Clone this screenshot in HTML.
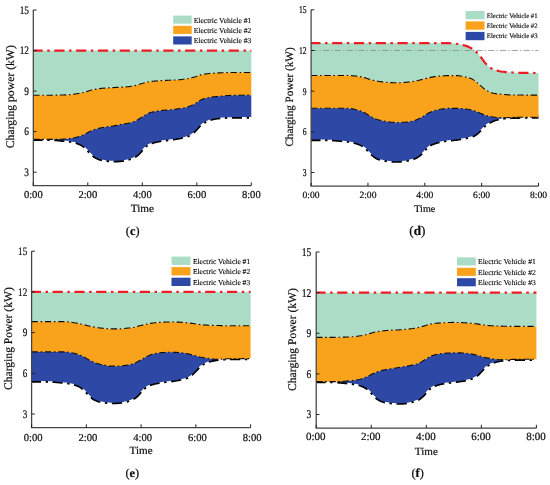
<!DOCTYPE html>
<html lang="en"><head><meta charset="utf-8"><title>Charging power of electric vehicles</title>
<style>
html,body{margin:0;padding:0;background:#fff;}
body{width:550px;height:485px;overflow:hidden;}
svg{display:block;}
text{font-family:"Liberation Serif",serif;fill:#0a0a0a;stroke:#0a0a0a;stroke-width:0.18px;text-rendering:geometricPrecision;}
.lg{fill:#111;stroke:#111;stroke-width:0.15px;}
</style></head><body>
<svg width="550" height="485" viewBox="0 0 550 485">
<defs><filter id="soft" x="0" y="0" width="550" height="485" filterUnits="userSpaceOnUse"><feGaussianBlur stdDeviation="0.38"/></filter></defs>
<rect width="550" height="485" fill="#fff"/>
<g filter="url(#soft)">
<g id="panel-c">
<polyline points="33.30,139.34 34.66,139.34 36.02,139.34 37.39,139.34 38.75,139.34 40.11,139.34 41.47,139.34 42.84,139.34 44.20,139.34 45.56,139.35 46.92,139.36 48.29,139.38 49.65,139.41 51.01,139.44 52.38,139.48 53.74,139.53 55.10,139.63 56.46,139.74 57.83,139.87 59.19,140.02 60.55,140.16 61.91,140.29 63.27,140.41 64.64,140.53 66.00,140.67 67.36,140.83 68.72,141.03 70.09,141.26 71.45,141.50 72.81,141.76 74.17,142.04 75.54,142.37 76.90,142.75 78.26,143.21 79.62,143.76 80.99,144.41 82.35,145.20 83.71,146.17 85.08,147.28 86.44,148.50 87.80,150.00 89.16,151.61 90.53,153.08 91.89,154.36 93.25,155.57 94.61,156.62 95.97,157.43 97.34,158.11 98.70,158.68 100.06,159.13 101.42,159.48 102.79,159.77 104.15,160.01 105.51,160.21 106.88,160.40 108.24,160.56 109.60,160.68 110.96,160.76 112.33,160.83 113.69,160.87 115.05,160.88 116.41,160.85 117.78,160.79 119.14,160.71 120.50,160.62 121.86,160.48 123.23,160.31 124.59,160.11 125.95,159.83 127.31,159.47 128.68,159.06 130.04,158.65 131.40,158.20 132.76,157.68 134.12,157.04 135.49,156.22 136.85,155.20 138.21,154.05 139.57,152.74 140.94,151.11 142.30,149.44 143.66,148.00 145.03,146.70 146.39,145.50 147.75,144.50 149.11,143.76 150.47,143.15 151.84,142.63 153.20,142.20 154.56,141.82 155.93,141.50 157.29,141.21 158.65,140.94 160.01,140.69 161.38,140.47 162.74,140.27 164.10,140.11 165.46,139.96 166.82,139.81 168.19,139.64 169.55,139.46 170.91,139.27 172.28,139.07 173.64,138.88 175.00,138.69 176.36,138.48 177.73,138.26 179.09,138.04 180.45,137.79 181.81,137.52 183.18,137.22 184.54,136.88 185.90,136.49 187.26,136.03 188.62,135.47 189.99,134.79 191.35,133.98 192.71,132.89 194.07,131.52 195.44,130.06 196.80,128.65 198.16,127.14 199.53,125.66 200.89,124.40 202.25,123.40 203.61,122.52 204.98,121.75 206.34,121.06 207.70,120.41 209.06,119.84 210.43,119.38 211.79,119.02 213.15,118.73 214.51,118.47 215.88,118.23 217.24,118.01 218.60,117.81 219.96,117.65 221.32,117.54 222.69,117.46 224.05,117.38 225.41,117.31 226.78,117.24 228.14,117.18 229.50,117.14 230.86,117.13 232.23,117.11 233.59,117.10 234.95,117.09 236.31,117.09 237.68,117.08 239.04,117.07 240.40,117.06 241.76,117.06 243.12,117.05 244.49,117.05 245.85,117.05 247.21,117.04 248.57,117.04 249.94,117.04 251.30,117.04" fill="none" stroke="#000" stroke-width="3.2" stroke-dasharray="10.2 4.6 2.4 4.6" stroke-dashoffset="0.8"/>
<polygon points="33.30,50.55 34.66,50.55 36.02,50.55 37.39,50.55 38.75,50.55 40.11,50.55 41.47,50.55 42.84,50.55 44.20,50.55 45.56,50.55 46.92,50.55 48.29,50.55 49.65,50.55 51.01,50.55 52.38,50.55 53.74,50.55 55.10,50.55 56.46,50.55 57.83,50.55 59.19,50.55 60.55,50.55 61.91,50.55 63.27,50.55 64.64,50.55 66.00,50.55 67.36,50.55 68.72,50.55 70.09,50.55 71.45,50.55 72.81,50.55 74.17,50.55 75.54,50.55 76.90,50.55 78.26,50.55 79.62,50.55 80.99,50.55 82.35,50.55 83.71,50.55 85.08,50.55 86.44,50.55 87.80,50.55 89.16,50.55 90.53,50.55 91.89,50.55 93.25,50.55 94.61,50.55 95.97,50.55 97.34,50.55 98.70,50.55 100.06,50.55 101.42,50.55 102.79,50.55 104.15,50.55 105.51,50.55 106.88,50.55 108.24,50.55 109.60,50.55 110.96,50.55 112.33,50.55 113.69,50.55 115.05,50.55 116.41,50.55 117.78,50.55 119.14,50.55 120.50,50.55 121.86,50.55 123.23,50.55 124.59,50.55 125.95,50.55 127.31,50.55 128.68,50.55 130.04,50.55 131.40,50.55 132.76,50.55 134.12,50.55 135.49,50.55 136.85,50.55 138.21,50.55 139.57,50.55 140.94,50.55 142.30,50.55 143.66,50.55 145.03,50.55 146.39,50.55 147.75,50.55 149.11,50.55 150.47,50.55 151.84,50.55 153.20,50.55 154.56,50.55 155.93,50.55 157.29,50.55 158.65,50.55 160.01,50.55 161.38,50.55 162.74,50.55 164.10,50.55 165.46,50.55 166.82,50.55 168.19,50.55 169.55,50.55 170.91,50.55 172.28,50.55 173.64,50.55 175.00,50.55 176.36,50.55 177.73,50.55 179.09,50.55 180.45,50.55 181.81,50.55 183.18,50.55 184.54,50.55 185.90,50.55 187.26,50.55 188.62,50.55 189.99,50.55 191.35,50.55 192.71,50.55 194.07,50.55 195.44,50.55 196.80,50.55 198.16,50.55 199.53,50.55 200.89,50.55 202.25,50.55 203.61,50.55 204.98,50.55 206.34,50.55 207.70,50.55 209.06,50.55 210.43,50.55 211.79,50.55 213.15,50.55 214.51,50.55 215.88,50.55 217.24,50.55 218.60,50.55 219.96,50.55 221.32,50.55 222.69,50.55 224.05,50.55 225.41,50.55 226.78,50.55 228.14,50.55 229.50,50.55 230.86,50.55 232.23,50.55 233.59,50.55 234.95,50.55 236.31,50.55 237.68,50.55 239.04,50.55 240.40,50.55 241.76,50.55 243.12,50.55 244.49,50.55 245.85,50.55 247.21,50.55 248.57,50.55 249.94,50.55 251.30,50.55 251.30,72.47 249.94,72.47 248.57,72.47 247.21,72.47 245.85,72.47 244.49,72.47 243.12,72.47 241.76,72.47 240.40,72.47 239.04,72.47 237.68,72.47 236.31,72.47 234.95,72.47 233.59,72.47 232.23,72.47 230.86,72.47 229.50,72.47 228.14,72.51 226.78,72.57 225.41,72.64 224.05,72.70 222.69,72.76 221.32,72.81 219.96,72.86 218.60,72.91 217.24,72.97 215.88,73.03 214.51,73.11 213.15,73.20 211.79,73.30 210.43,73.42 209.06,73.55 207.70,73.69 206.34,73.87 204.98,74.07 203.61,74.30 202.25,74.56 200.89,74.85 199.53,75.23 198.16,75.69 196.80,76.18 195.44,76.67 194.07,77.12 192.71,77.48 191.35,77.82 189.99,78.15 188.62,78.44 187.26,78.71 185.90,78.93 184.54,79.12 183.18,79.29 181.81,79.44 180.45,79.58 179.09,79.70 177.73,79.80 176.36,79.89 175.00,79.97 173.64,80.05 172.28,80.12 170.91,80.18 169.55,80.24 168.19,80.29 166.82,80.34 165.46,80.40 164.10,80.46 162.74,80.52 161.38,80.60 160.01,80.68 158.65,80.77 157.29,80.86 155.93,80.96 154.56,81.07 153.20,81.19 151.84,81.33 150.47,81.49 149.11,81.67 147.75,81.94 146.39,82.27 145.03,82.66 143.66,83.06 142.30,83.45 140.94,83.83 139.57,84.24 138.21,84.66 136.85,85.05 135.49,85.40 134.12,85.69 132.76,85.96 131.40,86.21 130.04,86.43 128.68,86.62 127.31,86.75 125.95,86.85 124.59,86.93 123.23,87.00 121.86,87.07 120.50,87.14 119.14,87.23 117.78,87.33 116.41,87.42 115.05,87.52 113.69,87.61 112.33,87.68 110.96,87.75 109.60,87.81 108.24,87.86 106.88,87.93 105.51,88.02 104.15,88.12 102.79,88.24 101.42,88.37 100.06,88.52 98.70,88.69 97.34,88.88 95.97,89.11 94.61,89.38 93.25,89.67 91.89,89.98 90.53,90.31 89.16,90.72 87.80,91.18 86.44,91.64 85.08,92.07 83.71,92.43 82.35,92.74 80.99,93.03 79.62,93.29 78.26,93.53 76.90,93.75 75.54,93.96 74.17,94.16 72.81,94.34 71.45,94.50 70.09,94.63 68.72,94.72 67.36,94.79 66.00,94.85 64.64,94.90 63.27,94.94 61.91,94.98 60.55,95.02 59.19,95.06 57.83,95.09 56.46,95.13 55.10,95.16 53.74,95.20 52.38,95.22 51.01,95.24 49.65,95.26 48.29,95.27 46.92,95.27 45.56,95.27 44.20,95.27 42.84,95.27 41.47,95.27 40.11,95.27 38.75,95.27 37.39,95.27 36.02,95.27 34.66,95.27 33.30,95.27" fill="#abddc6"/>
<polygon points="33.30,95.27 34.66,95.27 36.02,95.27 37.39,95.27 38.75,95.27 40.11,95.27 41.47,95.27 42.84,95.27 44.20,95.27 45.56,95.27 46.92,95.27 48.29,95.27 49.65,95.26 51.01,95.24 52.38,95.22 53.74,95.20 55.10,95.16 56.46,95.13 57.83,95.09 59.19,95.06 60.55,95.02 61.91,94.98 63.27,94.94 64.64,94.90 66.00,94.85 67.36,94.79 68.72,94.72 70.09,94.63 71.45,94.50 72.81,94.34 74.17,94.16 75.54,93.96 76.90,93.75 78.26,93.53 79.62,93.29 80.99,93.03 82.35,92.74 83.71,92.43 85.08,92.07 86.44,91.64 87.80,91.18 89.16,90.72 90.53,90.31 91.89,89.98 93.25,89.67 94.61,89.38 95.97,89.11 97.34,88.88 98.70,88.69 100.06,88.52 101.42,88.37 102.79,88.24 104.15,88.12 105.51,88.02 106.88,87.93 108.24,87.86 109.60,87.81 110.96,87.75 112.33,87.68 113.69,87.61 115.05,87.52 116.41,87.42 117.78,87.33 119.14,87.23 120.50,87.14 121.86,87.07 123.23,87.00 124.59,86.93 125.95,86.85 127.31,86.75 128.68,86.62 130.04,86.43 131.40,86.21 132.76,85.96 134.12,85.69 135.49,85.40 136.85,85.05 138.21,84.66 139.57,84.24 140.94,83.83 142.30,83.45 143.66,83.06 145.03,82.66 146.39,82.27 147.75,81.94 149.11,81.67 150.47,81.49 151.84,81.33 153.20,81.19 154.56,81.07 155.93,80.96 157.29,80.86 158.65,80.77 160.01,80.68 161.38,80.60 162.74,80.52 164.10,80.46 165.46,80.40 166.82,80.34 168.19,80.29 169.55,80.24 170.91,80.18 172.28,80.12 173.64,80.05 175.00,79.97 176.36,79.89 177.73,79.80 179.09,79.70 180.45,79.58 181.81,79.44 183.18,79.29 184.54,79.12 185.90,78.93 187.26,78.71 188.62,78.44 189.99,78.15 191.35,77.82 192.71,77.48 194.07,77.12 195.44,76.67 196.80,76.18 198.16,75.69 199.53,75.23 200.89,74.85 202.25,74.56 203.61,74.30 204.98,74.07 206.34,73.87 207.70,73.69 209.06,73.55 210.43,73.42 211.79,73.30 213.15,73.20 214.51,73.11 215.88,73.03 217.24,72.97 218.60,72.91 219.96,72.86 221.32,72.81 222.69,72.76 224.05,72.70 225.41,72.64 226.78,72.57 228.14,72.51 229.50,72.47 230.86,72.47 232.23,72.47 233.59,72.47 234.95,72.47 236.31,72.47 237.68,72.47 239.04,72.47 240.40,72.47 241.76,72.47 243.12,72.47 244.49,72.47 245.85,72.47 247.21,72.47 248.57,72.47 249.94,72.47 251.30,72.47 251.30,95.15 249.94,95.15 248.57,95.15 247.21,95.16 245.85,95.17 244.49,95.18 243.12,95.20 241.76,95.22 240.40,95.23 239.04,95.26 237.68,95.28 236.31,95.31 234.95,95.34 233.59,95.37 232.23,95.40 230.86,95.43 229.50,95.47 228.14,95.53 226.78,95.61 225.41,95.71 224.05,95.81 222.69,95.91 221.32,96.02 219.96,96.15 218.60,96.29 217.24,96.44 215.88,96.59 214.51,96.75 213.15,96.90 211.79,97.08 210.43,97.27 209.06,97.49 207.70,97.74 206.34,98.06 204.98,98.45 203.61,98.89 202.25,99.38 200.89,99.93 199.53,100.65 198.16,101.53 196.80,102.49 195.44,103.43 194.07,104.26 192.71,104.92 191.35,105.53 189.99,106.10 188.62,106.62 187.26,107.07 185.90,107.45 184.54,107.76 183.18,108.04 181.81,108.28 180.45,108.51 179.09,108.72 177.73,108.92 176.36,109.10 175.00,109.28 173.64,109.44 172.28,109.59 170.91,109.73 169.55,109.84 168.19,109.95 166.82,110.04 165.46,110.14 164.10,110.26 162.74,110.39 161.38,110.54 160.01,110.70 158.65,110.88 157.29,111.08 155.93,111.30 154.56,111.56 153.20,111.85 151.84,112.18 150.47,112.56 149.11,113.00 147.75,113.58 146.39,114.31 145.03,115.13 143.66,115.98 142.30,116.82 140.94,117.64 139.57,118.55 138.21,119.47 136.85,120.32 135.49,121.05 134.12,121.59 132.76,122.06 131.40,122.47 130.04,122.83 128.68,123.15 127.31,123.43 125.95,123.68 124.59,123.89 123.23,124.08 121.86,124.28 120.50,124.49 119.14,124.76 117.78,125.05 116.41,125.37 115.05,125.67 113.69,125.94 112.33,126.16 110.96,126.34 109.60,126.50 108.24,126.65 106.88,126.82 105.51,127.02 104.15,127.24 102.79,127.49 101.42,127.76 100.06,128.05 98.70,128.37 97.34,128.72 95.97,129.13 94.61,129.57 93.25,130.06 91.89,130.58 90.53,131.14 89.16,131.81 87.80,132.56 86.44,133.32 85.08,134.04 83.71,134.66 82.35,135.22 80.99,135.76 79.62,136.26 78.26,136.72 76.90,137.11 75.54,137.45 74.17,137.76 72.81,138.05 71.45,138.30 70.09,138.51 68.72,138.68 67.36,138.82 66.00,138.95 64.64,139.06 63.27,139.15 61.91,139.22 60.55,139.28 59.19,139.32 57.83,139.34 56.46,139.34 55.10,139.34 53.74,139.34 52.38,139.34 51.01,139.34 49.65,139.34 48.29,139.34 46.92,139.34 45.56,139.34 44.20,139.34 42.84,139.34 41.47,139.34 40.11,139.34 38.75,139.34 37.39,139.34 36.02,139.34 34.66,139.34 33.30,139.34" fill="#f9a21c"/>
<polygon points="33.30,139.34 34.66,139.34 36.02,139.34 37.39,139.34 38.75,139.34 40.11,139.34 41.47,139.34 42.84,139.34 44.20,139.34 45.56,139.34 46.92,139.34 48.29,139.34 49.65,139.34 51.01,139.34 52.38,139.34 53.74,139.34 55.10,139.34 56.46,139.34 57.83,139.34 59.19,139.32 60.55,139.28 61.91,139.22 63.27,139.15 64.64,139.06 66.00,138.95 67.36,138.82 68.72,138.68 70.09,138.51 71.45,138.30 72.81,138.05 74.17,137.76 75.54,137.45 76.90,137.11 78.26,136.72 79.62,136.26 80.99,135.76 82.35,135.22 83.71,134.66 85.08,134.04 86.44,133.32 87.80,132.56 89.16,131.81 90.53,131.14 91.89,130.58 93.25,130.06 94.61,129.57 95.97,129.13 97.34,128.72 98.70,128.37 100.06,128.05 101.42,127.76 102.79,127.49 104.15,127.24 105.51,127.02 106.88,126.82 108.24,126.65 109.60,126.50 110.96,126.34 112.33,126.16 113.69,125.94 115.05,125.67 116.41,125.37 117.78,125.05 119.14,124.76 120.50,124.49 121.86,124.28 123.23,124.08 124.59,123.89 125.95,123.68 127.31,123.43 128.68,123.15 130.04,122.83 131.40,122.47 132.76,122.06 134.12,121.59 135.49,121.05 136.85,120.32 138.21,119.47 139.57,118.55 140.94,117.64 142.30,116.82 143.66,115.98 145.03,115.13 146.39,114.31 147.75,113.58 149.11,113.00 150.47,112.56 151.84,112.18 153.20,111.85 154.56,111.56 155.93,111.30 157.29,111.08 158.65,110.88 160.01,110.70 161.38,110.54 162.74,110.39 164.10,110.26 165.46,110.14 166.82,110.04 168.19,109.95 169.55,109.84 170.91,109.73 172.28,109.59 173.64,109.44 175.00,109.28 176.36,109.10 177.73,108.92 179.09,108.72 180.45,108.51 181.81,108.28 183.18,108.04 184.54,107.76 185.90,107.45 187.26,107.07 188.62,106.62 189.99,106.10 191.35,105.53 192.71,104.92 194.07,104.26 195.44,103.43 196.80,102.49 198.16,101.53 199.53,100.65 200.89,99.93 202.25,99.38 203.61,98.89 204.98,98.45 206.34,98.06 207.70,97.74 209.06,97.49 210.43,97.27 211.79,97.08 213.15,96.90 214.51,96.75 215.88,96.59 217.24,96.44 218.60,96.29 219.96,96.15 221.32,96.02 222.69,95.91 224.05,95.81 225.41,95.71 226.78,95.61 228.14,95.53 229.50,95.47 230.86,95.43 232.23,95.40 233.59,95.37 234.95,95.34 236.31,95.31 237.68,95.28 239.04,95.26 240.40,95.23 241.76,95.22 243.12,95.20 244.49,95.18 245.85,95.17 247.21,95.16 248.57,95.15 249.94,95.15 251.30,95.15 251.30,117.04 249.94,117.04 248.57,117.04 247.21,117.04 245.85,117.05 244.49,117.05 243.12,117.05 241.76,117.06 240.40,117.06 239.04,117.07 237.68,117.08 236.31,117.09 234.95,117.09 233.59,117.10 232.23,117.11 230.86,117.13 229.50,117.14 228.14,117.18 226.78,117.24 225.41,117.31 224.05,117.38 222.69,117.46 221.32,117.54 219.96,117.65 218.60,117.81 217.24,118.01 215.88,118.23 214.51,118.47 213.15,118.73 211.79,119.02 210.43,119.38 209.06,119.84 207.70,120.41 206.34,121.06 204.98,121.75 203.61,122.52 202.25,123.40 200.89,124.40 199.53,125.66 198.16,127.14 196.80,128.65 195.44,130.06 194.07,131.52 192.71,132.89 191.35,133.98 189.99,134.79 188.62,135.47 187.26,136.03 185.90,136.49 184.54,136.88 183.18,137.22 181.81,137.52 180.45,137.79 179.09,138.04 177.73,138.26 176.36,138.48 175.00,138.69 173.64,138.88 172.28,139.07 170.91,139.27 169.55,139.46 168.19,139.64 166.82,139.81 165.46,139.96 164.10,140.11 162.74,140.27 161.38,140.47 160.01,140.69 158.65,140.94 157.29,141.21 155.93,141.50 154.56,141.82 153.20,142.20 151.84,142.63 150.47,143.15 149.11,143.76 147.75,144.50 146.39,145.50 145.03,146.70 143.66,148.00 142.30,149.44 140.94,151.11 139.57,152.74 138.21,154.05 136.85,155.20 135.49,156.22 134.12,157.04 132.76,157.68 131.40,158.20 130.04,158.65 128.68,159.06 127.31,159.47 125.95,159.83 124.59,160.11 123.23,160.31 121.86,160.48 120.50,160.62 119.14,160.71 117.78,160.79 116.41,160.85 115.05,160.88 113.69,160.87 112.33,160.83 110.96,160.76 109.60,160.68 108.24,160.56 106.88,160.40 105.51,160.21 104.15,160.01 102.79,159.77 101.42,159.48 100.06,159.13 98.70,158.68 97.34,158.11 95.97,157.43 94.61,156.62 93.25,155.57 91.89,154.36 90.53,153.08 89.16,151.61 87.80,150.00 86.44,148.50 85.08,147.28 83.71,146.17 82.35,145.20 80.99,144.41 79.62,143.76 78.26,143.21 76.90,142.75 75.54,142.37 74.17,142.04 72.81,141.76 71.45,141.50 70.09,141.26 68.72,141.03 67.36,140.83 66.00,140.67 64.64,140.53 63.27,140.41 61.91,140.29 60.55,140.16 59.19,140.02 57.83,139.87 56.46,139.74 55.10,139.63 53.74,139.53 52.38,139.48 51.01,139.44 49.65,139.41 48.29,139.38 46.92,139.36 45.56,139.35 44.20,139.34 42.84,139.34 41.47,139.34 40.11,139.34 38.75,139.34 37.39,139.34 36.02,139.34 34.66,139.34 33.30,139.34" fill="#2e49a5"/>
<polyline points="33.30,95.27 34.66,95.27 36.02,95.27 37.39,95.27 38.75,95.27 40.11,95.27 41.47,95.27 42.84,95.27 44.20,95.27 45.56,95.27 46.92,95.27 48.29,95.27 49.65,95.26 51.01,95.24 52.38,95.22 53.74,95.20 55.10,95.16 56.46,95.13 57.83,95.09 59.19,95.06 60.55,95.02 61.91,94.98 63.27,94.94 64.64,94.90 66.00,94.85 67.36,94.79 68.72,94.72 70.09,94.63 71.45,94.50 72.81,94.34 74.17,94.16 75.54,93.96 76.90,93.75 78.26,93.53 79.62,93.29 80.99,93.03 82.35,92.74 83.71,92.43 85.08,92.07 86.44,91.64 87.80,91.18 89.16,90.72 90.53,90.31 91.89,89.98 93.25,89.67 94.61,89.38 95.97,89.11 97.34,88.88 98.70,88.69 100.06,88.52 101.42,88.37 102.79,88.24 104.15,88.12 105.51,88.02 106.88,87.93 108.24,87.86 109.60,87.81 110.96,87.75 112.33,87.68 113.69,87.61 115.05,87.52 116.41,87.42 117.78,87.33 119.14,87.23 120.50,87.14 121.86,87.07 123.23,87.00 124.59,86.93 125.95,86.85 127.31,86.75 128.68,86.62 130.04,86.43 131.40,86.21 132.76,85.96 134.12,85.69 135.49,85.40 136.85,85.05 138.21,84.66 139.57,84.24 140.94,83.83 142.30,83.45 143.66,83.06 145.03,82.66 146.39,82.27 147.75,81.94 149.11,81.67 150.47,81.49 151.84,81.33 153.20,81.19 154.56,81.07 155.93,80.96 157.29,80.86 158.65,80.77 160.01,80.68 161.38,80.60 162.74,80.52 164.10,80.46 165.46,80.40 166.82,80.34 168.19,80.29 169.55,80.24 170.91,80.18 172.28,80.12 173.64,80.05 175.00,79.97 176.36,79.89 177.73,79.80 179.09,79.70 180.45,79.58 181.81,79.44 183.18,79.29 184.54,79.12 185.90,78.93 187.26,78.71 188.62,78.44 189.99,78.15 191.35,77.82 192.71,77.48 194.07,77.12 195.44,76.67 196.80,76.18 198.16,75.69 199.53,75.23 200.89,74.85 202.25,74.56 203.61,74.30 204.98,74.07 206.34,73.87 207.70,73.69 209.06,73.55 210.43,73.42 211.79,73.30 213.15,73.20 214.51,73.11 215.88,73.03 217.24,72.97 218.60,72.91 219.96,72.86 221.32,72.81 222.69,72.76 224.05,72.70 225.41,72.64 226.78,72.57 228.14,72.51 229.50,72.47 230.86,72.47 232.23,72.47 233.59,72.47 234.95,72.47 236.31,72.47 237.68,72.47 239.04,72.47 240.40,72.47 241.76,72.47 243.12,72.47 244.49,72.47 245.85,72.47 247.21,72.47 248.57,72.47 249.94,72.47 251.30,72.47" fill="none" stroke="#101010" stroke-width="1.12" stroke-dasharray="6.3 2.7 1.6 2.7"/>
<polyline points="33.30,139.34 34.66,139.34 36.02,139.34 37.39,139.34 38.75,139.34 40.11,139.34 41.47,139.34 42.84,139.34 44.20,139.34 45.56,139.34 46.92,139.34 48.29,139.34 49.65,139.34 51.01,139.34 52.38,139.34 53.74,139.34 55.10,139.34 56.46,139.34 57.83,139.34 59.19,139.32 60.55,139.28 61.91,139.22 63.27,139.15 64.64,139.06 66.00,138.95 67.36,138.82 68.72,138.68 70.09,138.51 71.45,138.30 72.81,138.05 74.17,137.76 75.54,137.45 76.90,137.11 78.26,136.72 79.62,136.26 80.99,135.76 82.35,135.22 83.71,134.66 85.08,134.04 86.44,133.32 87.80,132.56 89.16,131.81 90.53,131.14 91.89,130.58 93.25,130.06 94.61,129.57 95.97,129.13 97.34,128.72 98.70,128.37 100.06,128.05 101.42,127.76 102.79,127.49 104.15,127.24 105.51,127.02 106.88,126.82 108.24,126.65 109.60,126.50 110.96,126.34 112.33,126.16 113.69,125.94 115.05,125.67 116.41,125.37 117.78,125.05 119.14,124.76 120.50,124.49 121.86,124.28 123.23,124.08 124.59,123.89 125.95,123.68 127.31,123.43 128.68,123.15 130.04,122.83 131.40,122.47 132.76,122.06 134.12,121.59 135.49,121.05 136.85,120.32 138.21,119.47 139.57,118.55 140.94,117.64 142.30,116.82 143.66,115.98 145.03,115.13 146.39,114.31 147.75,113.58 149.11,113.00 150.47,112.56 151.84,112.18 153.20,111.85 154.56,111.56 155.93,111.30 157.29,111.08 158.65,110.88 160.01,110.70 161.38,110.54 162.74,110.39 164.10,110.26 165.46,110.14 166.82,110.04 168.19,109.95 169.55,109.84 170.91,109.73 172.28,109.59 173.64,109.44 175.00,109.28 176.36,109.10 177.73,108.92 179.09,108.72 180.45,108.51 181.81,108.28 183.18,108.04 184.54,107.76 185.90,107.45 187.26,107.07 188.62,106.62 189.99,106.10 191.35,105.53 192.71,104.92 194.07,104.26 195.44,103.43 196.80,102.49 198.16,101.53 199.53,100.65 200.89,99.93 202.25,99.38 203.61,98.89 204.98,98.45 206.34,98.06 207.70,97.74 209.06,97.49 210.43,97.27 211.79,97.08 213.15,96.90 214.51,96.75 215.88,96.59 217.24,96.44 218.60,96.29 219.96,96.15 221.32,96.02 222.69,95.91 224.05,95.81 225.41,95.71 226.78,95.61 228.14,95.53 229.50,95.47 230.86,95.43 232.23,95.40 233.59,95.37 234.95,95.34 236.31,95.31 237.68,95.28 239.04,95.26 240.40,95.23 241.76,95.22 243.12,95.20 244.49,95.18 245.85,95.17 247.21,95.16 248.57,95.15 249.94,95.15 251.30,95.15" fill="none" stroke="#101010" stroke-width="1.12" stroke-dasharray="6.3 2.7 1.6 2.7"/>
<polyline points="33.30,50.55 34.66,50.55 36.02,50.55 37.39,50.55 38.75,50.55 40.11,50.55 41.47,50.55 42.84,50.55 44.20,50.55 45.56,50.55 46.92,50.55 48.29,50.55 49.65,50.55 51.01,50.55 52.38,50.55 53.74,50.55 55.10,50.55 56.46,50.55 57.83,50.55 59.19,50.55 60.55,50.55 61.91,50.55 63.27,50.55 64.64,50.55 66.00,50.55 67.36,50.55 68.72,50.55 70.09,50.55 71.45,50.55 72.81,50.55 74.17,50.55 75.54,50.55 76.90,50.55 78.26,50.55 79.62,50.55 80.99,50.55 82.35,50.55 83.71,50.55 85.08,50.55 86.44,50.55 87.80,50.55 89.16,50.55 90.53,50.55 91.89,50.55 93.25,50.55 94.61,50.55 95.97,50.55 97.34,50.55 98.70,50.55 100.06,50.55 101.42,50.55 102.79,50.55 104.15,50.55 105.51,50.55 106.88,50.55 108.24,50.55 109.60,50.55 110.96,50.55 112.33,50.55 113.69,50.55 115.05,50.55 116.41,50.55 117.78,50.55 119.14,50.55 120.50,50.55 121.86,50.55 123.23,50.55 124.59,50.55 125.95,50.55 127.31,50.55 128.68,50.55 130.04,50.55 131.40,50.55 132.76,50.55 134.12,50.55 135.49,50.55 136.85,50.55 138.21,50.55 139.57,50.55 140.94,50.55 142.30,50.55 143.66,50.55 145.03,50.55 146.39,50.55 147.75,50.55 149.11,50.55 150.47,50.55 151.84,50.55 153.20,50.55 154.56,50.55 155.93,50.55 157.29,50.55 158.65,50.55 160.01,50.55 161.38,50.55 162.74,50.55 164.10,50.55 165.46,50.55 166.82,50.55 168.19,50.55 169.55,50.55 170.91,50.55 172.28,50.55 173.64,50.55 175.00,50.55 176.36,50.55 177.73,50.55 179.09,50.55 180.45,50.55 181.81,50.55 183.18,50.55 184.54,50.55 185.90,50.55 187.26,50.55 188.62,50.55 189.99,50.55 191.35,50.55 192.71,50.55 194.07,50.55 195.44,50.55 196.80,50.55 198.16,50.55 199.53,50.55 200.89,50.55 202.25,50.55 203.61,50.55 204.98,50.55 206.34,50.55 207.70,50.55 209.06,50.55 210.43,50.55 211.79,50.55 213.15,50.55 214.51,50.55 215.88,50.55 217.24,50.55 218.60,50.55 219.96,50.55 221.32,50.55 222.69,50.55 224.05,50.55 225.41,50.55 226.78,50.55 228.14,50.55 229.50,50.55 230.86,50.55 232.23,50.55 233.59,50.55 234.95,50.55 236.31,50.55 237.68,50.55 239.04,50.55 240.40,50.55 241.76,50.55 243.12,50.55 244.49,50.55 245.85,50.55 247.21,50.55 248.57,50.55 249.94,50.55 251.30,50.55" fill="none" stroke="#ee1c25" stroke-width="2.2" stroke-dasharray="10.2 4.6 2.4 4.6" stroke-dashoffset="0.8"/>
<path d="M33.30 10.00V185.70H251.30" fill="none" stroke="#444" stroke-width="1.25"/>
<line x1="33.30" y1="172.18" x2="36.60" y2="172.18" stroke="#222" stroke-width="1"/>
<text font-size="10.60px" transform="translate(29.00 175.95) scale(0.880 1.08)" text-anchor="end">3</text>
<line x1="33.30" y1="131.64" x2="36.60" y2="131.64" stroke="#222" stroke-width="1"/>
<text font-size="10.60px" transform="translate(29.00 135.40) scale(0.880 1.08)" text-anchor="end">6</text>
<line x1="33.30" y1="91.09" x2="36.60" y2="91.09" stroke="#222" stroke-width="1"/>
<text font-size="10.60px" transform="translate(29.00 94.86) scale(0.880 1.08)" text-anchor="end">9</text>
<line x1="33.30" y1="50.55" x2="36.60" y2="50.55" stroke="#222" stroke-width="1"/>
<text font-size="10.60px" transform="translate(29.00 54.31) scale(0.880 1.08)" text-anchor="end">12</text>
<line x1="33.30" y1="10.00" x2="36.60" y2="10.00" stroke="#222" stroke-width="1"/>
<text font-size="10.60px" transform="translate(29.00 13.76) scale(0.880 1.08)" text-anchor="end">15</text>
<line x1="33.30" y1="185.70" x2="33.30" y2="182.40" stroke="#222" stroke-width="1"/>
<text font-size="10.60px" x="33.30" y="197.80" text-anchor="middle">0:00</text>
<line x1="87.80" y1="185.70" x2="87.80" y2="182.40" stroke="#222" stroke-width="1"/>
<text font-size="10.60px" x="87.80" y="197.80" text-anchor="middle">2:00</text>
<line x1="142.30" y1="185.70" x2="142.30" y2="182.40" stroke="#222" stroke-width="1"/>
<text font-size="10.60px" x="142.30" y="197.80" text-anchor="middle">4:00</text>
<line x1="196.80" y1="185.70" x2="196.80" y2="182.40" stroke="#222" stroke-width="1"/>
<text font-size="10.60px" x="196.80" y="197.80" text-anchor="middle">6:00</text>
<line x1="251.30" y1="185.70" x2="251.30" y2="182.40" stroke="#222" stroke-width="1"/>
<text font-size="10.60px" x="251.30" y="197.80" text-anchor="middle">8:00</text>
<text font-size="11.20px" x="142.30" y="212.10" text-anchor="middle">Time</text>
<text font-size="11.70px" transform="translate(13.70 96.70) rotate(-90)" text-anchor="middle">Charging power (kW)</text>
<text font-size="12.30px" x="132.70" y="235.20" text-anchor="middle">(<tspan font-weight="bold">c</tspan>)</text>
<rect x="173.20" y="15.60" width="18.50" height="8.10" fill="#abddc6"/>
<text x="193.70" y="22.55" font-size="7.60px" class="lg">Electric Vehicle #1</text>
<rect x="173.20" y="25.85" width="18.50" height="8.10" fill="#f9a21c"/>
<text x="193.70" y="32.80" font-size="7.60px" class="lg">Electric Vehicle #2</text>
<rect x="173.20" y="36.40" width="18.50" height="8.10" fill="#2e49a5"/>
<text x="193.70" y="43.35" font-size="7.60px" class="lg">Electric Vehicle #3</text>
</g>
<g id="panel-d">
<polyline points="311.10,139.58 312.52,139.58 313.94,139.58 315.36,139.58 316.79,139.58 318.21,139.58 319.63,139.58 321.05,139.58 322.47,139.58 323.89,139.59 325.31,139.60 326.73,139.62 328.16,139.65 329.58,139.68 331.00,139.72 332.42,139.78 333.84,139.87 335.26,139.98 336.68,140.12 338.10,140.26 339.53,140.40 340.95,140.53 342.37,140.65 343.79,140.78 345.21,140.91 346.63,141.08 348.05,141.28 349.47,141.51 350.90,141.75 352.32,142.01 353.74,142.29 355.16,142.62 356.58,143.00 358.00,143.47 359.42,144.02 360.84,144.67 362.27,145.46 363.69,146.44 365.11,147.55 366.53,148.78 367.95,150.28 369.37,151.89 370.79,153.37 372.21,154.65 373.63,155.86 375.06,156.92 376.48,157.74 377.90,158.42 379.32,158.99 380.74,159.44 382.16,159.79 383.58,160.08 385.00,160.32 386.43,160.53 387.85,160.71 389.27,160.88 390.69,160.99 392.11,161.07 393.53,161.14 394.95,161.19 396.38,161.20 397.80,161.17 399.22,161.11 400.64,161.03 402.06,160.93 403.48,160.80 404.90,160.63 406.32,160.42 407.75,160.14 409.17,159.78 410.59,159.37 412.01,158.96 413.43,158.50 414.85,157.98 416.27,157.35 417.69,156.51 419.12,155.50 420.54,154.35 421.96,153.02 423.38,151.39 424.80,149.72 426.22,148.27 427.64,146.96 429.06,145.76 430.49,144.76 431.91,144.01 433.33,143.40 434.75,142.89 436.17,142.45 437.59,142.07 439.01,141.75 440.43,141.46 441.86,141.19 443.28,140.94 444.70,140.72 446.12,140.52 447.54,140.35 448.96,140.21 450.38,140.06 451.80,139.89 453.23,139.70 454.65,139.51 456.07,139.31 457.49,139.12 458.91,138.93 460.33,138.72 461.75,138.50 463.17,138.27 464.60,138.03 466.02,137.75 467.44,137.45 468.86,137.12 470.28,136.73 471.70,136.26 473.12,135.69 474.54,135.01 475.97,134.20 477.39,133.11 478.81,131.74 480.23,130.27 481.65,128.85 483.07,127.34 484.49,125.86 485.91,124.60 487.34,123.59 488.76,122.71 490.18,121.93 491.60,121.24 493.02,120.59 494.44,120.02 495.86,119.55 497.28,119.19 498.71,118.90 500.13,118.64 501.55,118.40 502.97,118.18 504.39,117.98 505.81,117.82 507.23,117.71 508.65,117.62 510.07,117.55 511.50,117.48 512.92,117.41 514.34,117.34 515.76,117.31 517.18,117.29 518.60,117.28 520.02,117.27 521.45,117.26 522.87,117.25 524.29,117.24 525.71,117.24 527.13,117.23 528.55,117.22 529.97,117.22 531.39,117.22 532.82,117.21 534.24,117.21 535.66,117.21 537.08,117.21 538.50,117.21" fill="none" stroke="#000" stroke-width="3.2" stroke-dasharray="10.2 4.6 2.4 4.6" stroke-dashoffset="0.8"/>
<polygon points="311.10,43.09 312.52,43.09 313.94,43.09 315.36,43.09 316.79,43.09 318.21,43.09 319.63,43.09 321.05,43.09 322.47,43.09 323.89,43.09 325.31,43.09 326.73,43.09 328.16,43.09 329.58,43.09 331.00,43.09 332.42,43.09 333.84,43.09 335.26,43.09 336.68,43.09 338.10,43.09 339.53,43.09 340.95,43.09 342.37,43.09 343.79,43.09 345.21,43.09 346.63,43.09 348.05,43.09 349.47,43.09 350.90,43.09 352.32,43.09 353.74,43.09 355.16,43.09 356.58,43.09 358.00,43.09 359.42,43.09 360.84,43.09 362.27,43.09 363.69,43.09 365.11,43.09 366.53,43.09 367.95,43.09 369.37,43.09 370.79,43.09 372.21,43.09 373.63,43.09 375.06,43.09 376.48,43.09 377.90,43.09 379.32,43.09 380.74,43.09 382.16,43.09 383.58,43.09 385.00,43.09 386.43,43.09 387.85,43.09 389.27,43.09 390.69,43.09 392.11,43.09 393.53,43.09 394.95,43.09 396.38,43.09 397.80,43.09 399.22,43.09 400.64,43.09 402.06,43.09 403.48,43.09 404.90,43.09 406.32,43.09 407.75,43.09 409.17,43.09 410.59,43.09 412.01,43.09 413.43,43.09 414.85,43.09 416.27,43.09 417.69,43.09 419.12,43.09 420.54,43.09 421.96,43.09 423.38,43.09 424.80,43.09 426.22,43.09 427.64,43.09 429.06,43.09 430.49,43.09 431.91,43.09 433.33,43.09 434.75,43.09 436.17,43.09 437.59,43.09 439.01,43.09 440.43,43.09 441.86,43.09 443.28,43.09 444.70,43.09 446.12,43.11 447.54,43.14 448.96,43.19 450.38,43.26 451.80,43.34 453.23,43.43 454.65,43.56 456.07,43.76 457.49,43.99 458.91,44.26 460.33,44.54 461.75,44.82 463.17,45.12 464.60,45.47 466.02,45.87 467.44,46.37 468.86,46.97 470.28,47.66 471.70,48.43 473.12,49.35 474.54,50.40 475.97,51.59 477.39,52.97 478.81,54.61 480.23,56.39 481.65,58.16 483.07,60.08 484.49,62.06 485.91,63.85 487.34,65.29 488.76,66.58 490.18,67.68 491.60,68.54 493.02,69.22 494.44,69.79 495.86,70.26 497.28,70.64 498.71,70.99 500.13,71.29 501.55,71.54 502.97,71.74 504.39,71.90 505.81,72.04 507.23,72.16 508.65,72.26 510.07,72.36 511.50,72.44 512.92,72.51 514.34,72.58 515.76,72.65 517.18,72.71 518.60,72.75 520.02,72.79 521.45,72.81 522.87,72.84 524.29,72.86 525.71,72.89 527.13,72.91 528.55,72.93 529.97,72.94 531.39,72.96 532.82,72.97 534.24,72.98 535.66,72.99 537.08,73.00 538.50,73.00 538.50,95.10 537.08,95.10 535.66,95.10 534.24,95.10 532.82,95.10 531.39,95.09 529.97,95.09 528.55,95.09 527.13,95.08 525.71,95.07 524.29,95.07 522.87,95.06 521.45,95.05 520.02,95.04 518.60,95.03 517.18,95.02 515.76,95.01 514.34,94.99 512.92,94.98 511.50,94.96 510.07,94.92 508.65,94.84 507.23,94.75 505.81,94.63 504.39,94.52 502.97,94.40 501.55,94.29 500.13,94.16 498.71,94.02 497.28,93.86 495.86,93.67 494.44,93.44 493.02,93.16 491.60,92.81 490.18,92.33 488.76,91.66 487.34,90.86 485.91,90.00 484.49,88.98 483.07,87.84 481.65,86.66 480.23,85.44 478.81,84.14 477.39,82.87 475.97,81.73 474.54,80.65 473.12,79.64 471.70,78.81 470.28,78.23 468.86,77.78 467.44,77.40 466.02,77.07 464.60,76.76 463.17,76.48 461.75,76.25 460.33,76.03 458.91,75.81 457.49,75.66 456.07,75.61 454.65,75.61 453.23,75.61 451.80,75.61 450.38,75.61 448.96,75.61 447.54,75.64 446.12,75.68 444.70,75.75 443.28,75.83 441.86,75.91 440.43,76.01 439.01,76.14 437.59,76.29 436.17,76.45 434.75,76.64 433.33,76.85 431.91,77.11 430.49,77.40 429.06,77.71 427.64,78.03 426.22,78.37 424.80,78.74 423.38,79.13 421.96,79.52 420.54,79.88 419.12,80.21 417.69,80.53 416.27,80.83 414.85,81.11 413.43,81.36 412.01,81.57 410.59,81.76 409.17,81.94 407.75,82.10 406.32,82.24 404.90,82.36 403.48,82.48 402.06,82.60 400.64,82.69 399.22,82.75 397.80,82.76 396.38,82.75 394.95,82.73 393.53,82.70 392.11,82.66 390.69,82.62 389.27,82.54 387.85,82.43 386.43,82.30 385.00,82.15 383.58,82.00 382.16,81.84 380.74,81.66 379.32,81.46 377.90,81.24 376.48,81.00 375.06,80.71 373.63,80.36 372.21,79.97 370.79,79.57 369.37,79.18 367.95,78.77 366.53,78.33 365.11,77.89 363.69,77.48 362.27,77.12 360.84,76.84 359.42,76.58 358.00,76.34 356.58,76.14 355.16,75.97 353.74,75.83 352.32,75.70 350.90,75.59 349.47,75.51 348.05,75.48 346.63,75.48 345.21,75.48 343.79,75.48 342.37,75.48 340.95,75.48 339.53,75.48 338.10,75.48 336.68,75.48 335.26,75.48 333.84,75.48 332.42,75.48 331.00,75.48 329.58,75.48 328.16,75.48 326.73,75.48 325.31,75.48 323.89,75.48 322.47,75.48 321.05,75.48 319.63,75.48 318.21,75.48 316.79,75.48 315.36,75.48 313.94,75.48 312.52,75.48 311.10,75.48" fill="#abddc6"/>
<polygon points="311.10,75.48 312.52,75.48 313.94,75.48 315.36,75.48 316.79,75.48 318.21,75.48 319.63,75.48 321.05,75.48 322.47,75.48 323.89,75.48 325.31,75.48 326.73,75.48 328.16,75.48 329.58,75.48 331.00,75.48 332.42,75.48 333.84,75.48 335.26,75.48 336.68,75.48 338.10,75.48 339.53,75.48 340.95,75.48 342.37,75.48 343.79,75.48 345.21,75.48 346.63,75.48 348.05,75.48 349.47,75.51 350.90,75.59 352.32,75.70 353.74,75.83 355.16,75.97 356.58,76.14 358.00,76.34 359.42,76.58 360.84,76.84 362.27,77.12 363.69,77.48 365.11,77.89 366.53,78.33 367.95,78.77 369.37,79.18 370.79,79.57 372.21,79.97 373.63,80.36 375.06,80.71 376.48,81.00 377.90,81.24 379.32,81.46 380.74,81.66 382.16,81.84 383.58,82.00 385.00,82.15 386.43,82.30 387.85,82.43 389.27,82.54 390.69,82.62 392.11,82.66 393.53,82.70 394.95,82.73 396.38,82.75 397.80,82.76 399.22,82.75 400.64,82.69 402.06,82.60 403.48,82.48 404.90,82.36 406.32,82.24 407.75,82.10 409.17,81.94 410.59,81.76 412.01,81.57 413.43,81.36 414.85,81.11 416.27,80.83 417.69,80.53 419.12,80.21 420.54,79.88 421.96,79.52 423.38,79.13 424.80,78.74 426.22,78.37 427.64,78.03 429.06,77.71 430.49,77.40 431.91,77.11 433.33,76.85 434.75,76.64 436.17,76.45 437.59,76.29 439.01,76.14 440.43,76.01 441.86,75.91 443.28,75.83 444.70,75.75 446.12,75.68 447.54,75.64 448.96,75.61 450.38,75.61 451.80,75.61 453.23,75.61 454.65,75.61 456.07,75.61 457.49,75.66 458.91,75.81 460.33,76.03 461.75,76.25 463.17,76.48 464.60,76.76 466.02,77.07 467.44,77.40 468.86,77.78 470.28,78.23 471.70,78.81 473.12,79.64 474.54,80.65 475.97,81.73 477.39,82.87 478.81,84.14 480.23,85.44 481.65,86.66 483.07,87.84 484.49,88.98 485.91,90.00 487.34,90.86 488.76,91.66 490.18,92.33 491.60,92.81 493.02,93.16 494.44,93.44 495.86,93.67 497.28,93.86 498.71,94.02 500.13,94.16 501.55,94.29 502.97,94.40 504.39,94.52 505.81,94.63 507.23,94.75 508.65,94.84 510.07,94.92 511.50,94.96 512.92,94.98 514.34,94.99 515.76,95.01 517.18,95.02 518.60,95.03 520.02,95.04 521.45,95.05 522.87,95.06 524.29,95.07 525.71,95.07 527.13,95.08 528.55,95.09 529.97,95.09 531.39,95.09 532.82,95.10 534.24,95.10 535.66,95.10 537.08,95.10 538.50,95.10 538.50,117.21 537.08,117.21 535.66,117.21 534.24,117.21 532.82,117.21 531.39,117.22 529.97,117.22 528.55,117.22 527.13,117.23 525.71,117.24 524.29,117.24 522.87,117.25 521.45,117.26 520.02,117.27 518.60,117.28 517.18,117.29 515.76,117.31 514.34,117.34 512.92,117.41 511.50,117.48 510.07,117.55 508.65,117.62 507.23,117.71 505.81,117.74 504.39,117.75 502.97,117.75 501.55,117.73 500.13,117.68 498.71,117.62 497.28,117.53 495.86,117.43 494.44,117.24 493.02,116.99 491.60,116.72 490.18,116.45 488.76,116.15 487.34,115.81 485.91,115.41 484.49,114.92 483.07,114.37 481.65,113.79 480.23,113.21 478.81,112.58 477.39,111.96 475.97,111.41 474.54,110.89 473.12,110.42 471.70,110.01 470.28,109.71 468.86,109.47 467.44,109.26 466.02,109.07 464.60,108.89 463.17,108.72 461.75,108.60 460.33,108.50 458.91,108.42 457.49,108.37 456.07,108.35 454.65,108.35 453.23,108.35 451.80,108.35 450.38,108.35 448.96,108.35 447.54,108.41 446.12,108.53 444.70,108.69 443.28,108.88 441.86,109.07 440.43,109.28 439.01,109.52 437.59,109.80 436.17,110.13 434.75,110.50 433.33,110.94 431.91,111.51 430.49,112.16 429.06,112.86 427.64,113.59 426.22,114.36 424.80,115.25 423.38,116.18 421.96,117.08 420.54,117.89 419.12,118.58 417.69,119.25 416.27,119.87 414.85,120.42 413.43,120.86 412.01,121.19 410.59,121.48 409.17,121.73 407.75,121.94 406.32,122.10 404.90,122.21 403.48,122.31 402.06,122.39 400.64,122.45 399.22,122.49 397.80,122.49 396.38,122.47 394.95,122.41 393.53,122.34 392.11,122.25 390.69,122.15 389.27,122.00 387.85,121.79 386.43,121.53 385.00,121.26 383.58,120.98 382.16,120.69 380.74,120.39 379.32,120.06 377.90,119.68 376.48,119.24 375.06,118.69 373.63,117.99 372.21,117.21 370.79,116.40 369.37,115.60 367.95,114.81 366.53,113.95 365.11,113.09 363.69,112.30 362.27,111.62 360.84,111.09 359.42,110.60 358.00,110.17 356.58,109.78 355.16,109.46 353.74,109.17 352.32,108.89 350.90,108.63 349.47,108.41 348.05,108.26 346.63,108.20 345.21,108.20 343.79,108.20 342.37,108.20 340.95,108.20 339.53,108.20 338.10,108.20 336.68,108.20 335.26,108.20 333.84,108.20 332.42,108.20 331.00,108.20 329.58,108.20 328.16,108.20 326.73,108.20 325.31,108.20 323.89,108.20 322.47,108.20 321.05,108.20 319.63,108.20 318.21,108.20 316.79,108.20 315.36,108.20 313.94,108.20 312.52,108.20 311.10,108.20" fill="#f9a21c"/>
<polygon points="311.10,108.20 312.52,108.20 313.94,108.20 315.36,108.20 316.79,108.20 318.21,108.20 319.63,108.20 321.05,108.20 322.47,108.20 323.89,108.20 325.31,108.20 326.73,108.20 328.16,108.20 329.58,108.20 331.00,108.20 332.42,108.20 333.84,108.20 335.26,108.20 336.68,108.20 338.10,108.20 339.53,108.20 340.95,108.20 342.37,108.20 343.79,108.20 345.21,108.20 346.63,108.20 348.05,108.26 349.47,108.41 350.90,108.63 352.32,108.89 353.74,109.17 355.16,109.46 356.58,109.78 358.00,110.17 359.42,110.60 360.84,111.09 362.27,111.62 363.69,112.30 365.11,113.09 366.53,113.95 367.95,114.81 369.37,115.60 370.79,116.40 372.21,117.21 373.63,117.99 375.06,118.69 376.48,119.24 377.90,119.68 379.32,120.06 380.74,120.39 382.16,120.69 383.58,120.98 385.00,121.26 386.43,121.53 387.85,121.79 389.27,122.00 390.69,122.15 392.11,122.25 393.53,122.34 394.95,122.41 396.38,122.47 397.80,122.49 399.22,122.49 400.64,122.45 402.06,122.39 403.48,122.31 404.90,122.21 406.32,122.10 407.75,121.94 409.17,121.73 410.59,121.48 412.01,121.19 413.43,120.86 414.85,120.42 416.27,119.87 417.69,119.25 419.12,118.58 420.54,117.89 421.96,117.08 423.38,116.18 424.80,115.25 426.22,114.36 427.64,113.59 429.06,112.86 430.49,112.16 431.91,111.51 433.33,110.94 434.75,110.50 436.17,110.13 437.59,109.80 439.01,109.52 440.43,109.28 441.86,109.07 443.28,108.88 444.70,108.69 446.12,108.53 447.54,108.41 448.96,108.35 450.38,108.35 451.80,108.35 453.23,108.35 454.65,108.35 456.07,108.35 457.49,108.37 458.91,108.42 460.33,108.50 461.75,108.60 463.17,108.72 464.60,108.89 466.02,109.07 467.44,109.26 468.86,109.47 470.28,109.71 471.70,110.01 473.12,110.42 474.54,110.89 475.97,111.41 477.39,111.96 478.81,112.58 480.23,113.21 481.65,113.79 483.07,114.37 484.49,114.92 485.91,115.41 487.34,115.81 488.76,116.15 490.18,116.45 491.60,116.72 493.02,116.99 494.44,117.24 495.86,117.43 497.28,117.53 498.71,117.62 500.13,117.68 501.55,117.73 502.97,117.75 504.39,117.75 505.81,117.74 507.23,117.71 508.65,117.62 510.07,117.55 511.50,117.48 512.92,117.41 514.34,117.34 515.76,117.31 517.18,117.29 518.60,117.28 520.02,117.27 521.45,117.26 522.87,117.25 524.29,117.24 525.71,117.24 527.13,117.23 528.55,117.22 529.97,117.22 531.39,117.22 532.82,117.21 534.24,117.21 535.66,117.21 537.08,117.21 538.50,117.21 538.50,117.21 537.08,117.21 535.66,117.21 534.24,117.21 532.82,117.21 531.39,117.22 529.97,117.22 528.55,117.22 527.13,117.23 525.71,117.24 524.29,117.24 522.87,117.25 521.45,117.26 520.02,117.27 518.60,117.28 517.18,117.29 515.76,117.31 514.34,117.34 512.92,117.41 511.50,117.48 510.07,117.55 508.65,117.62 507.23,117.71 505.81,117.82 504.39,117.98 502.97,118.18 501.55,118.40 500.13,118.64 498.71,118.90 497.28,119.19 495.86,119.55 494.44,120.02 493.02,120.59 491.60,121.24 490.18,121.93 488.76,122.71 487.34,123.59 485.91,124.60 484.49,125.86 483.07,127.34 481.65,128.85 480.23,130.27 478.81,131.74 477.39,133.11 475.97,134.20 474.54,135.01 473.12,135.69 471.70,136.26 470.28,136.73 468.86,137.12 467.44,137.45 466.02,137.75 464.60,138.03 463.17,138.27 461.75,138.50 460.33,138.72 458.91,138.93 457.49,139.12 456.07,139.31 454.65,139.51 453.23,139.70 451.80,139.89 450.38,140.06 448.96,140.21 447.54,140.35 446.12,140.52 444.70,140.72 443.28,140.94 441.86,141.19 440.43,141.46 439.01,141.75 437.59,142.07 436.17,142.45 434.75,142.89 433.33,143.40 431.91,144.01 430.49,144.76 429.06,145.76 427.64,146.96 426.22,148.27 424.80,149.72 423.38,151.39 421.96,153.02 420.54,154.35 419.12,155.50 417.69,156.51 416.27,157.35 414.85,157.98 413.43,158.50 412.01,158.96 410.59,159.37 409.17,159.78 407.75,160.14 406.32,160.42 404.90,160.63 403.48,160.80 402.06,160.93 400.64,161.03 399.22,161.11 397.80,161.17 396.38,161.20 394.95,161.19 393.53,161.14 392.11,161.07 390.69,160.99 389.27,160.88 387.85,160.71 386.43,160.53 385.00,160.32 383.58,160.08 382.16,159.79 380.74,159.44 379.32,158.99 377.90,158.42 376.48,157.74 375.06,156.92 373.63,155.86 372.21,154.65 370.79,153.37 369.37,151.89 367.95,150.28 366.53,148.78 365.11,147.55 363.69,146.44 362.27,145.46 360.84,144.67 359.42,144.02 358.00,143.47 356.58,143.00 355.16,142.62 353.74,142.29 352.32,142.01 350.90,141.75 349.47,141.51 348.05,141.28 346.63,141.08 345.21,140.91 343.79,140.78 342.37,140.65 340.95,140.53 339.53,140.40 338.10,140.26 336.68,140.12 335.26,139.98 333.84,139.87 332.42,139.78 331.00,139.72 329.58,139.68 328.16,139.65 326.73,139.62 325.31,139.60 323.89,139.59 322.47,139.58 321.05,139.58 319.63,139.58 318.21,139.58 316.79,139.58 315.36,139.58 313.94,139.58 312.52,139.58 311.10,139.58" fill="#2e49a5"/>
<line x1="311.10" y1="50.48" x2="538.50" y2="50.48" stroke="#8c8c8c" stroke-width="0.8" stroke-dasharray="6.2 2.2 1.3 2.1"/>
<polyline points="311.10,75.48 312.52,75.48 313.94,75.48 315.36,75.48 316.79,75.48 318.21,75.48 319.63,75.48 321.05,75.48 322.47,75.48 323.89,75.48 325.31,75.48 326.73,75.48 328.16,75.48 329.58,75.48 331.00,75.48 332.42,75.48 333.84,75.48 335.26,75.48 336.68,75.48 338.10,75.48 339.53,75.48 340.95,75.48 342.37,75.48 343.79,75.48 345.21,75.48 346.63,75.48 348.05,75.48 349.47,75.51 350.90,75.59 352.32,75.70 353.74,75.83 355.16,75.97 356.58,76.14 358.00,76.34 359.42,76.58 360.84,76.84 362.27,77.12 363.69,77.48 365.11,77.89 366.53,78.33 367.95,78.77 369.37,79.18 370.79,79.57 372.21,79.97 373.63,80.36 375.06,80.71 376.48,81.00 377.90,81.24 379.32,81.46 380.74,81.66 382.16,81.84 383.58,82.00 385.00,82.15 386.43,82.30 387.85,82.43 389.27,82.54 390.69,82.62 392.11,82.66 393.53,82.70 394.95,82.73 396.38,82.75 397.80,82.76 399.22,82.75 400.64,82.69 402.06,82.60 403.48,82.48 404.90,82.36 406.32,82.24 407.75,82.10 409.17,81.94 410.59,81.76 412.01,81.57 413.43,81.36 414.85,81.11 416.27,80.83 417.69,80.53 419.12,80.21 420.54,79.88 421.96,79.52 423.38,79.13 424.80,78.74 426.22,78.37 427.64,78.03 429.06,77.71 430.49,77.40 431.91,77.11 433.33,76.85 434.75,76.64 436.17,76.45 437.59,76.29 439.01,76.14 440.43,76.01 441.86,75.91 443.28,75.83 444.70,75.75 446.12,75.68 447.54,75.64 448.96,75.61 450.38,75.61 451.80,75.61 453.23,75.61 454.65,75.61 456.07,75.61 457.49,75.66 458.91,75.81 460.33,76.03 461.75,76.25 463.17,76.48 464.60,76.76 466.02,77.07 467.44,77.40 468.86,77.78 470.28,78.23 471.70,78.81 473.12,79.64 474.54,80.65 475.97,81.73 477.39,82.87 478.81,84.14 480.23,85.44 481.65,86.66 483.07,87.84 484.49,88.98 485.91,90.00 487.34,90.86 488.76,91.66 490.18,92.33 491.60,92.81 493.02,93.16 494.44,93.44 495.86,93.67 497.28,93.86 498.71,94.02 500.13,94.16 501.55,94.29 502.97,94.40 504.39,94.52 505.81,94.63 507.23,94.75 508.65,94.84 510.07,94.92 511.50,94.96 512.92,94.98 514.34,94.99 515.76,95.01 517.18,95.02 518.60,95.03 520.02,95.04 521.45,95.05 522.87,95.06 524.29,95.07 525.71,95.07 527.13,95.08 528.55,95.09 529.97,95.09 531.39,95.09 532.82,95.10 534.24,95.10 535.66,95.10 537.08,95.10 538.50,95.10" fill="none" stroke="#101010" stroke-width="1.12" stroke-dasharray="6.3 2.7 1.6 2.7"/>
<polyline points="311.10,108.20 312.52,108.20 313.94,108.20 315.36,108.20 316.79,108.20 318.21,108.20 319.63,108.20 321.05,108.20 322.47,108.20 323.89,108.20 325.31,108.20 326.73,108.20 328.16,108.20 329.58,108.20 331.00,108.20 332.42,108.20 333.84,108.20 335.26,108.20 336.68,108.20 338.10,108.20 339.53,108.20 340.95,108.20 342.37,108.20 343.79,108.20 345.21,108.20 346.63,108.20 348.05,108.26 349.47,108.41 350.90,108.63 352.32,108.89 353.74,109.17 355.16,109.46 356.58,109.78 358.00,110.17 359.42,110.60 360.84,111.09 362.27,111.62 363.69,112.30 365.11,113.09 366.53,113.95 367.95,114.81 369.37,115.60 370.79,116.40 372.21,117.21 373.63,117.99 375.06,118.69 376.48,119.24 377.90,119.68 379.32,120.06 380.74,120.39 382.16,120.69 383.58,120.98 385.00,121.26 386.43,121.53 387.85,121.79 389.27,122.00 390.69,122.15 392.11,122.25 393.53,122.34 394.95,122.41 396.38,122.47 397.80,122.49 399.22,122.49 400.64,122.45 402.06,122.39 403.48,122.31 404.90,122.21 406.32,122.10 407.75,121.94 409.17,121.73 410.59,121.48 412.01,121.19 413.43,120.86 414.85,120.42 416.27,119.87 417.69,119.25 419.12,118.58 420.54,117.89 421.96,117.08 423.38,116.18 424.80,115.25 426.22,114.36 427.64,113.59 429.06,112.86 430.49,112.16 431.91,111.51 433.33,110.94 434.75,110.50 436.17,110.13 437.59,109.80 439.01,109.52 440.43,109.28 441.86,109.07 443.28,108.88 444.70,108.69 446.12,108.53 447.54,108.41 448.96,108.35 450.38,108.35 451.80,108.35 453.23,108.35 454.65,108.35 456.07,108.35 457.49,108.37 458.91,108.42 460.33,108.50 461.75,108.60 463.17,108.72 464.60,108.89 466.02,109.07 467.44,109.26 468.86,109.47 470.28,109.71 471.70,110.01 473.12,110.42 474.54,110.89 475.97,111.41 477.39,111.96 478.81,112.58 480.23,113.21 481.65,113.79 483.07,114.37 484.49,114.92 485.91,115.41 487.34,115.81 488.76,116.15 490.18,116.45 491.60,116.72 493.02,116.99 494.44,117.24 495.86,117.43 497.28,117.53 498.71,117.62 500.13,117.68 501.55,117.73 502.97,117.75 504.39,117.75 505.81,117.74 507.23,117.71 508.65,117.62 510.07,117.55 511.50,117.48 512.92,117.41 514.34,117.34 515.76,117.31 517.18,117.29 518.60,117.28 520.02,117.27 521.45,117.26 522.87,117.25 524.29,117.24 525.71,117.24 527.13,117.23 528.55,117.22 529.97,117.22 531.39,117.22 532.82,117.21 534.24,117.21 535.66,117.21 537.08,117.21 538.50,117.21" fill="none" stroke="#101010" stroke-width="1.12" stroke-dasharray="6.3 2.7 1.6 2.7"/>
<polyline points="311.10,43.09 312.52,43.09 313.94,43.09 315.36,43.09 316.79,43.09 318.21,43.09 319.63,43.09 321.05,43.09 322.47,43.09 323.89,43.09 325.31,43.09 326.73,43.09 328.16,43.09 329.58,43.09 331.00,43.09 332.42,43.09 333.84,43.09 335.26,43.09 336.68,43.09 338.10,43.09 339.53,43.09 340.95,43.09 342.37,43.09 343.79,43.09 345.21,43.09 346.63,43.09 348.05,43.09 349.47,43.09 350.90,43.09 352.32,43.09 353.74,43.09 355.16,43.09 356.58,43.09 358.00,43.09 359.42,43.09 360.84,43.09 362.27,43.09 363.69,43.09 365.11,43.09 366.53,43.09 367.95,43.09 369.37,43.09 370.79,43.09 372.21,43.09 373.63,43.09 375.06,43.09 376.48,43.09 377.90,43.09 379.32,43.09 380.74,43.09 382.16,43.09 383.58,43.09 385.00,43.09 386.43,43.09 387.85,43.09 389.27,43.09 390.69,43.09 392.11,43.09 393.53,43.09 394.95,43.09 396.38,43.09 397.80,43.09 399.22,43.09 400.64,43.09 402.06,43.09 403.48,43.09 404.90,43.09 406.32,43.09 407.75,43.09 409.17,43.09 410.59,43.09 412.01,43.09 413.43,43.09 414.85,43.09 416.27,43.09 417.69,43.09 419.12,43.09 420.54,43.09 421.96,43.09 423.38,43.09 424.80,43.09 426.22,43.09 427.64,43.09 429.06,43.09 430.49,43.09 431.91,43.09 433.33,43.09 434.75,43.09 436.17,43.09 437.59,43.09 439.01,43.09 440.43,43.09 441.86,43.09 443.28,43.09 444.70,43.09 446.12,43.11 447.54,43.14 448.96,43.19 450.38,43.26 451.80,43.34 453.23,43.43 454.65,43.56 456.07,43.76 457.49,43.99 458.91,44.26 460.33,44.54 461.75,44.82 463.17,45.12 464.60,45.47 466.02,45.87 467.44,46.37 468.86,46.97 470.28,47.66 471.70,48.43 473.12,49.35 474.54,50.40 475.97,51.59 477.39,52.97 478.81,54.61 480.23,56.39 481.65,58.16 483.07,60.08 484.49,62.06 485.91,63.85 487.34,65.29 488.76,66.58 490.18,67.68 491.60,68.54 493.02,69.22 494.44,69.79 495.86,70.26 497.28,70.64 498.71,70.99 500.13,71.29 501.55,71.54 502.97,71.74 504.39,71.90 505.81,72.04 507.23,72.16 508.65,72.26 510.07,72.36 511.50,72.44 512.92,72.51 514.34,72.58 515.76,72.65 517.18,72.71 518.60,72.75 520.02,72.79 521.45,72.81 522.87,72.84 524.29,72.86 525.71,72.89 527.13,72.91 528.55,72.93 529.97,72.94 531.39,72.96 532.82,72.97 534.24,72.98 535.66,72.99 537.08,73.00 538.50,73.00" fill="none" stroke="#ee1c25" stroke-width="2.2" stroke-dasharray="10.2 4.6 2.4 4.6" stroke-dashoffset="0.8"/>
<path d="M311.10 9.80V186.10H538.50" fill="none" stroke="#444" stroke-width="1.25"/>
<line x1="311.10" y1="172.54" x2="314.40" y2="172.54" stroke="#222" stroke-width="1"/>
<text font-size="9.60px" transform="translate(306.60 175.95) scale(0.800 1.08)" text-anchor="end">3</text>
<line x1="311.10" y1="131.85" x2="314.40" y2="131.85" stroke="#222" stroke-width="1"/>
<text font-size="9.60px" transform="translate(306.60 135.26) scale(0.800 1.08)" text-anchor="end">6</text>
<line x1="311.10" y1="91.17" x2="314.40" y2="91.17" stroke="#222" stroke-width="1"/>
<text font-size="9.60px" transform="translate(306.60 94.58) scale(0.800 1.08)" text-anchor="end">9</text>
<line x1="311.10" y1="50.48" x2="314.40" y2="50.48" stroke="#222" stroke-width="1"/>
<text font-size="9.60px" transform="translate(306.60 53.89) scale(0.800 1.08)" text-anchor="end">12</text>
<line x1="311.10" y1="9.80" x2="314.40" y2="9.80" stroke="#222" stroke-width="1"/>
<text font-size="9.60px" transform="translate(306.60 13.21) scale(0.800 1.08)" text-anchor="end">15</text>
<line x1="311.10" y1="186.10" x2="311.10" y2="182.80" stroke="#222" stroke-width="1"/>
<text font-size="9.60px" x="311.10" y="197.90" text-anchor="middle">0:00</text>
<line x1="367.95" y1="186.10" x2="367.95" y2="182.80" stroke="#222" stroke-width="1"/>
<text font-size="9.60px" x="367.95" y="197.90" text-anchor="middle">2:00</text>
<line x1="424.80" y1="186.10" x2="424.80" y2="182.80" stroke="#222" stroke-width="1"/>
<text font-size="9.60px" x="424.80" y="197.90" text-anchor="middle">4:00</text>
<line x1="481.65" y1="186.10" x2="481.65" y2="182.80" stroke="#222" stroke-width="1"/>
<text font-size="9.60px" x="481.65" y="197.90" text-anchor="middle">6:00</text>
<line x1="538.50" y1="186.10" x2="538.50" y2="182.80" stroke="#222" stroke-width="1"/>
<text font-size="9.60px" x="538.50" y="197.90" text-anchor="middle">8:00</text>
<text font-size="10.10px" x="424.80" y="211.90" text-anchor="middle">Time</text>
<text font-size="11.20px" transform="translate(292.70 97.00) rotate(-90)" text-anchor="middle">Charging Power (kW)</text>
<text font-size="13.20px" x="417.40" y="234.70" text-anchor="middle">(<tspan font-weight="bold">d</tspan>)</text>
<rect x="465.60" y="11.00" width="18.90" height="8.30" fill="#abddc6"/>
<text x="486.80" y="17.55" font-size="6.70px" class="lg">Electric Vehicle #1</text>
<rect x="465.60" y="21.40" width="18.90" height="8.30" fill="#f9a21c"/>
<text x="486.80" y="27.95" font-size="6.70px" class="lg">Electric Vehicle #2</text>
<rect x="465.60" y="31.90" width="18.90" height="8.30" fill="#2e49a5"/>
<text x="486.80" y="38.45" font-size="6.70px" class="lg">Electric Vehicle #3</text>
</g>
<g id="panel-e">
<polyline points="31.60,381.06 32.97,381.06 34.34,381.06 35.71,381.06 37.08,381.06 38.44,381.06 39.81,381.06 41.18,381.06 42.55,381.06 43.92,381.06 45.29,381.08 46.66,381.10 48.03,381.12 49.39,381.16 50.76,381.19 52.13,381.25 53.50,381.34 54.87,381.46 56.24,381.59 57.61,381.73 58.98,381.88 60.34,382.01 61.71,382.13 63.08,382.25 64.45,382.39 65.82,382.55 67.19,382.75 68.56,382.98 69.93,383.23 71.29,383.49 72.66,383.77 74.03,384.09 75.40,384.48 76.77,384.94 78.14,385.50 79.51,386.14 80.88,386.94 82.24,387.92 83.61,389.03 84.98,390.26 86.35,391.76 87.72,393.37 89.09,394.85 90.46,396.13 91.83,397.35 93.19,398.40 94.56,399.22 95.93,399.90 97.30,400.47 98.67,400.93 100.04,401.28 101.41,401.57 102.78,401.81 104.14,402.01 105.51,402.20 106.88,402.36 108.25,402.48 109.62,402.56 110.99,402.63 112.36,402.67 113.72,402.69 115.09,402.65 116.46,402.59 117.83,402.51 119.20,402.42 120.57,402.28 121.94,402.11 123.31,401.91 124.68,401.62 126.04,401.26 127.41,400.86 128.78,400.44 130.15,399.99 131.52,399.46 132.89,398.83 134.26,398.00 135.62,396.98 136.99,395.83 138.36,394.50 139.73,392.87 141.10,391.20 142.47,389.75 143.84,388.44 145.21,387.24 146.58,386.23 147.94,385.49 149.31,384.88 150.68,384.36 152.05,383.93 153.42,383.55 154.79,383.22 156.16,382.93 157.53,382.66 158.89,382.41 160.26,382.19 161.63,381.99 163.00,381.83 164.37,381.68 165.74,381.53 167.11,381.36 168.47,381.17 169.84,380.98 171.21,380.79 172.58,380.59 173.95,380.40 175.32,380.19 176.69,379.98 178.06,379.75 179.43,379.50 180.79,379.23 182.16,378.92 183.53,378.59 184.90,378.20 186.27,377.73 187.64,377.17 189.01,376.48 190.38,375.67 191.74,374.58 193.11,373.21 194.48,371.74 195.85,370.32 197.22,368.81 198.59,367.32 199.96,366.06 201.32,365.05 202.69,364.17 204.06,363.39 205.43,362.70 206.80,362.05 208.17,361.48 209.54,361.01 210.91,360.66 212.28,360.36 213.64,360.10 215.01,359.86 216.38,359.64 217.75,359.44 219.12,359.28 220.49,359.17 221.86,359.08 223.22,359.01 224.59,358.94 225.96,358.87 227.33,358.80 228.70,358.77 230.07,358.75 231.44,358.74 232.81,358.73 234.18,358.72 235.54,358.71 236.91,358.70 238.28,358.70 239.65,358.69 241.02,358.69 242.39,358.68 243.76,358.68 245.12,358.67 246.49,358.67 247.86,358.67 249.23,358.67 250.60,358.67" fill="none" stroke="#000" stroke-width="3.2" stroke-dasharray="10.2 4.6 2.4 4.6" stroke-dashoffset="0.8"/>
<polygon points="31.60,291.91 32.97,291.91 34.34,291.91 35.71,291.91 37.08,291.91 38.44,291.91 39.81,291.91 41.18,291.91 42.55,291.91 43.92,291.91 45.29,291.91 46.66,291.91 48.03,291.91 49.39,291.91 50.76,291.91 52.13,291.91 53.50,291.91 54.87,291.91 56.24,291.91 57.61,291.91 58.98,291.91 60.34,291.91 61.71,291.91 63.08,291.91 64.45,291.91 65.82,291.91 67.19,291.91 68.56,291.91 69.93,291.91 71.29,291.91 72.66,291.91 74.03,291.91 75.40,291.91 76.77,291.91 78.14,291.91 79.51,291.91 80.88,291.91 82.24,291.91 83.61,291.91 84.98,291.91 86.35,291.91 87.72,291.91 89.09,291.91 90.46,291.91 91.83,291.91 93.19,291.91 94.56,291.91 95.93,291.91 97.30,291.91 98.67,291.91 100.04,291.91 101.41,291.91 102.78,291.91 104.14,291.91 105.51,291.91 106.88,291.91 108.25,291.91 109.62,291.91 110.99,291.91 112.36,291.91 113.72,291.91 115.09,291.91 116.46,291.91 117.83,291.91 119.20,291.91 120.57,291.91 121.94,291.91 123.31,291.91 124.68,291.91 126.04,291.91 127.41,291.91 128.78,291.91 130.15,291.91 131.52,291.91 132.89,291.91 134.26,291.91 135.62,291.91 136.99,291.91 138.36,291.91 139.73,291.91 141.10,291.91 142.47,291.91 143.84,291.91 145.21,291.91 146.58,291.91 147.94,291.91 149.31,291.91 150.68,291.91 152.05,291.91 153.42,291.91 154.79,291.91 156.16,291.91 157.53,291.91 158.89,291.91 160.26,291.91 161.63,291.91 163.00,291.91 164.37,291.91 165.74,291.91 167.11,291.91 168.47,291.91 169.84,291.91 171.21,291.91 172.58,291.91 173.95,291.91 175.32,291.91 176.69,291.91 178.06,291.91 179.43,291.91 180.79,291.91 182.16,291.91 183.53,291.91 184.90,291.91 186.27,291.91 187.64,291.91 189.01,291.91 190.38,291.91 191.74,291.91 193.11,291.91 194.48,291.91 195.85,291.91 197.22,291.91 198.59,291.91 199.96,291.91 201.32,291.91 202.69,291.91 204.06,291.91 205.43,291.91 206.80,291.91 208.17,291.91 209.54,291.91 210.91,291.91 212.28,291.91 213.64,291.91 215.01,291.91 216.38,291.91 217.75,291.91 219.12,291.91 220.49,291.91 221.86,291.91 223.22,291.91 224.59,291.91 225.96,291.91 227.33,291.91 228.70,291.91 230.07,291.91 231.44,291.91 232.81,291.91 234.18,291.91 235.54,291.91 236.91,291.91 238.28,291.91 239.65,291.91 241.02,291.91 242.39,291.91 243.76,291.91 245.12,291.91 246.49,291.91 247.86,291.91 249.23,291.91 250.60,291.91 250.60,325.72 249.23,325.72 247.86,325.72 246.49,325.72 245.12,325.72 243.76,325.72 242.39,325.72 241.02,325.72 239.65,325.72 238.28,325.72 236.91,325.72 235.54,325.72 234.18,325.72 232.81,325.72 231.44,325.72 230.07,325.72 228.70,325.72 227.33,325.72 225.96,325.71 224.59,325.69 223.22,325.66 221.86,325.63 220.49,325.60 219.12,325.56 217.75,325.52 216.38,325.48 215.01,325.44 213.64,325.41 212.28,325.36 210.91,325.31 209.54,325.26 208.17,325.19 206.80,325.12 205.43,325.03 204.06,324.93 202.69,324.81 201.32,324.68 199.96,324.54 198.59,324.37 197.22,324.17 195.85,323.95 194.48,323.72 193.11,323.51 191.74,323.32 190.38,323.15 189.01,322.97 187.64,322.81 186.27,322.66 184.90,322.52 183.53,322.42 182.16,322.33 180.79,322.24 179.43,322.17 178.06,322.11 176.69,322.07 175.32,322.03 173.95,322.00 172.58,321.98 171.21,321.96 169.84,321.95 168.47,321.96 167.11,321.99 165.74,322.04 164.37,322.10 163.00,322.18 161.63,322.25 160.26,322.33 158.89,322.42 157.53,322.53 156.16,322.65 154.79,322.79 153.42,322.95 152.05,323.14 150.68,323.37 149.31,323.61 147.94,323.87 146.58,324.14 145.21,324.44 143.84,324.77 142.47,325.11 141.10,325.45 139.73,325.79 138.36,326.15 136.99,326.52 135.62,326.88 134.26,327.21 132.89,327.47 131.52,327.68 130.15,327.86 128.78,328.02 127.41,328.17 126.04,328.30 124.68,328.44 123.31,328.58 121.94,328.72 120.57,328.84 119.20,328.91 117.83,328.92 116.46,328.92 115.09,328.92 113.72,328.92 112.36,328.92 110.99,328.92 109.62,328.89 108.25,328.80 106.88,328.68 105.51,328.54 104.14,328.39 102.78,328.26 101.41,328.11 100.04,327.96 98.67,327.78 97.30,327.59 95.93,327.39 94.56,327.15 93.19,326.89 91.83,326.60 90.46,326.31 89.09,326.01 87.72,325.69 86.35,325.35 84.98,325.00 83.61,324.65 82.24,324.33 80.88,324.03 79.51,323.73 78.14,323.44 76.77,323.17 75.40,322.93 74.03,322.72 72.66,322.51 71.29,322.30 69.93,322.10 68.56,321.92 67.19,321.78 65.82,321.69 64.45,321.65 63.08,321.65 61.71,321.65 60.34,321.65 58.98,321.65 57.61,321.65 56.24,321.65 54.87,321.65 53.50,321.65 52.13,321.65 50.76,321.65 49.39,321.65 48.03,321.65 46.66,321.65 45.29,321.65 43.92,321.65 42.55,321.65 41.18,321.65 39.81,321.65 38.44,321.65 37.08,321.65 35.71,321.65 34.34,321.65 32.97,321.65 31.60,321.65" fill="#abddc6"/>
<polygon points="31.60,321.65 32.97,321.65 34.34,321.65 35.71,321.65 37.08,321.65 38.44,321.65 39.81,321.65 41.18,321.65 42.55,321.65 43.92,321.65 45.29,321.65 46.66,321.65 48.03,321.65 49.39,321.65 50.76,321.65 52.13,321.65 53.50,321.65 54.87,321.65 56.24,321.65 57.61,321.65 58.98,321.65 60.34,321.65 61.71,321.65 63.08,321.65 64.45,321.65 65.82,321.69 67.19,321.78 68.56,321.92 69.93,322.10 71.29,322.30 72.66,322.51 74.03,322.72 75.40,322.93 76.77,323.17 78.14,323.44 79.51,323.73 80.88,324.03 82.24,324.33 83.61,324.65 84.98,325.00 86.35,325.35 87.72,325.69 89.09,326.01 90.46,326.31 91.83,326.60 93.19,326.89 94.56,327.15 95.93,327.39 97.30,327.59 98.67,327.78 100.04,327.96 101.41,328.11 102.78,328.26 104.14,328.39 105.51,328.54 106.88,328.68 108.25,328.80 109.62,328.89 110.99,328.92 112.36,328.92 113.72,328.92 115.09,328.92 116.46,328.92 117.83,328.92 119.20,328.91 120.57,328.84 121.94,328.72 123.31,328.58 124.68,328.44 126.04,328.30 127.41,328.17 128.78,328.02 130.15,327.86 131.52,327.68 132.89,327.47 134.26,327.21 135.62,326.88 136.99,326.52 138.36,326.15 139.73,325.79 141.10,325.45 142.47,325.11 143.84,324.77 145.21,324.44 146.58,324.14 147.94,323.87 149.31,323.61 150.68,323.37 152.05,323.14 153.42,322.95 154.79,322.79 156.16,322.65 157.53,322.53 158.89,322.42 160.26,322.33 161.63,322.25 163.00,322.18 164.37,322.10 165.74,322.04 167.11,321.99 168.47,321.96 169.84,321.95 171.21,321.96 172.58,321.98 173.95,322.00 175.32,322.03 176.69,322.07 178.06,322.11 179.43,322.17 180.79,322.24 182.16,322.33 183.53,322.42 184.90,322.52 186.27,322.66 187.64,322.81 189.01,322.97 190.38,323.15 191.74,323.32 193.11,323.51 194.48,323.72 195.85,323.95 197.22,324.17 198.59,324.37 199.96,324.54 201.32,324.68 202.69,324.81 204.06,324.93 205.43,325.03 206.80,325.12 208.17,325.19 209.54,325.26 210.91,325.31 212.28,325.36 213.64,325.41 215.01,325.44 216.38,325.48 217.75,325.52 219.12,325.56 220.49,325.60 221.86,325.63 223.22,325.66 224.59,325.69 225.96,325.71 227.33,325.72 228.70,325.72 230.07,325.72 231.44,325.72 232.81,325.72 234.18,325.72 235.54,325.72 236.91,325.72 238.28,325.72 239.65,325.72 241.02,325.72 242.39,325.72 243.76,325.72 245.12,325.72 246.49,325.72 247.86,325.72 249.23,325.72 250.60,325.72 250.60,358.67 249.23,358.67 247.86,358.67 246.49,358.67 245.12,358.67 243.76,358.68 242.39,358.68 241.02,358.69 239.65,358.69 238.28,358.70 236.91,358.70 235.54,358.71 234.18,358.72 232.81,358.73 231.44,358.74 230.07,358.75 228.70,358.77 227.33,358.80 225.96,358.87 224.59,358.94 223.22,359.01 221.86,359.08 220.49,359.17 219.12,359.21 217.75,359.20 216.38,359.20 215.01,359.19 213.64,359.14 212.28,359.02 210.91,358.85 209.54,358.64 208.17,358.42 206.80,358.22 205.43,358.01 204.06,357.77 202.69,357.52 201.32,357.25 199.96,356.97 198.59,356.65 197.22,356.29 195.85,355.91 194.48,355.52 193.11,355.15 191.74,354.80 190.38,354.47 189.01,354.12 187.64,353.80 186.27,353.50 184.90,353.25 183.53,353.06 182.16,352.89 180.79,352.73 179.43,352.59 178.06,352.48 176.69,352.40 175.32,352.34 173.95,352.29 172.58,352.25 171.21,352.21 169.84,352.20 168.47,352.20 167.11,352.25 165.74,352.33 164.37,352.44 163.00,352.55 161.63,352.67 160.26,352.80 158.89,352.95 157.53,353.13 156.16,353.35 154.79,353.59 153.42,353.91 152.05,354.34 150.68,354.85 149.31,355.42 147.94,356.02 146.58,356.65 145.21,357.37 143.84,358.16 142.47,358.97 141.10,359.76 139.73,360.49 138.36,361.24 136.99,361.99 135.62,362.70 134.26,363.33 132.89,363.82 131.52,364.22 130.15,364.57 128.78,364.87 127.41,365.14 126.04,365.36 124.68,365.55 123.31,365.74 121.94,365.92 120.57,366.05 119.20,366.14 117.83,366.16 116.46,366.16 115.09,366.16 113.72,366.16 112.36,366.16 110.99,366.16 109.62,366.09 108.25,365.91 106.88,365.66 105.51,365.37 104.14,365.09 102.78,364.82 101.41,364.53 100.04,364.23 98.67,363.88 97.30,363.50 95.93,363.07 94.56,362.55 93.19,361.94 91.83,361.28 90.46,360.59 89.09,359.90 87.72,359.17 86.35,358.37 84.98,357.56 83.61,356.79 82.24,356.10 80.88,355.51 79.51,354.94 78.14,354.42 76.77,353.95 75.40,353.55 74.03,353.25 72.66,352.96 71.29,352.69 69.93,352.43 68.56,352.22 67.19,352.05 65.82,351.94 64.45,351.90 63.08,351.90 61.71,351.90 60.34,351.90 58.98,351.90 57.61,351.90 56.24,351.90 54.87,351.90 53.50,351.90 52.13,351.90 50.76,351.90 49.39,351.90 48.03,351.90 46.66,351.90 45.29,351.90 43.92,351.90 42.55,351.90 41.18,351.90 39.81,351.90 38.44,351.90 37.08,351.90 35.71,351.90 34.34,351.90 32.97,351.90 31.60,351.90" fill="#f9a21c"/>
<polygon points="31.60,351.90 32.97,351.90 34.34,351.90 35.71,351.90 37.08,351.90 38.44,351.90 39.81,351.90 41.18,351.90 42.55,351.90 43.92,351.90 45.29,351.90 46.66,351.90 48.03,351.90 49.39,351.90 50.76,351.90 52.13,351.90 53.50,351.90 54.87,351.90 56.24,351.90 57.61,351.90 58.98,351.90 60.34,351.90 61.71,351.90 63.08,351.90 64.45,351.90 65.82,351.94 67.19,352.05 68.56,352.22 69.93,352.43 71.29,352.69 72.66,352.96 74.03,353.25 75.40,353.55 76.77,353.95 78.14,354.42 79.51,354.94 80.88,355.51 82.24,356.10 83.61,356.79 84.98,357.56 86.35,358.37 87.72,359.17 89.09,359.90 90.46,360.59 91.83,361.28 93.19,361.94 94.56,362.55 95.93,363.07 97.30,363.50 98.67,363.88 100.04,364.23 101.41,364.53 102.78,364.82 104.14,365.09 105.51,365.37 106.88,365.66 108.25,365.91 109.62,366.09 110.99,366.16 112.36,366.16 113.72,366.16 115.09,366.16 116.46,366.16 117.83,366.16 119.20,366.14 120.57,366.05 121.94,365.92 123.31,365.74 124.68,365.55 126.04,365.36 127.41,365.14 128.78,364.87 130.15,364.57 131.52,364.22 132.89,363.82 134.26,363.33 135.62,362.70 136.99,361.99 138.36,361.24 139.73,360.49 141.10,359.76 142.47,358.97 143.84,358.16 145.21,357.37 146.58,356.65 147.94,356.02 149.31,355.42 150.68,354.85 152.05,354.34 153.42,353.91 154.79,353.59 156.16,353.35 157.53,353.13 158.89,352.95 160.26,352.80 161.63,352.67 163.00,352.55 164.37,352.44 165.74,352.33 167.11,352.25 168.47,352.20 169.84,352.20 171.21,352.21 172.58,352.25 173.95,352.29 175.32,352.34 176.69,352.40 178.06,352.48 179.43,352.59 180.79,352.73 182.16,352.89 183.53,353.06 184.90,353.25 186.27,353.50 187.64,353.80 189.01,354.12 190.38,354.47 191.74,354.80 193.11,355.15 194.48,355.52 195.85,355.91 197.22,356.29 198.59,356.65 199.96,356.97 201.32,357.25 202.69,357.52 204.06,357.77 205.43,358.01 206.80,358.22 208.17,358.42 209.54,358.64 210.91,358.85 212.28,359.02 213.64,359.14 215.01,359.19 216.38,359.20 217.75,359.20 219.12,359.21 220.49,359.17 221.86,359.08 223.22,359.01 224.59,358.94 225.96,358.87 227.33,358.80 228.70,358.77 230.07,358.75 231.44,358.74 232.81,358.73 234.18,358.72 235.54,358.71 236.91,358.70 238.28,358.70 239.65,358.69 241.02,358.69 242.39,358.68 243.76,358.68 245.12,358.67 246.49,358.67 247.86,358.67 249.23,358.67 250.60,358.67 250.60,358.67 249.23,358.67 247.86,358.67 246.49,358.67 245.12,358.67 243.76,358.68 242.39,358.68 241.02,358.69 239.65,358.69 238.28,358.70 236.91,358.70 235.54,358.71 234.18,358.72 232.81,358.73 231.44,358.74 230.07,358.75 228.70,358.77 227.33,358.80 225.96,358.87 224.59,358.94 223.22,359.01 221.86,359.08 220.49,359.17 219.12,359.28 217.75,359.44 216.38,359.64 215.01,359.86 213.64,360.10 212.28,360.36 210.91,360.66 209.54,361.01 208.17,361.48 206.80,362.05 205.43,362.70 204.06,363.39 202.69,364.17 201.32,365.05 199.96,366.06 198.59,367.32 197.22,368.81 195.85,370.32 194.48,371.74 193.11,373.21 191.74,374.58 190.38,375.67 189.01,376.48 187.64,377.17 186.27,377.73 184.90,378.20 183.53,378.59 182.16,378.92 180.79,379.23 179.43,379.50 178.06,379.75 176.69,379.98 175.32,380.19 173.95,380.40 172.58,380.59 171.21,380.79 169.84,380.98 168.47,381.17 167.11,381.36 165.74,381.53 164.37,381.68 163.00,381.83 161.63,381.99 160.26,382.19 158.89,382.41 157.53,382.66 156.16,382.93 154.79,383.22 153.42,383.55 152.05,383.93 150.68,384.36 149.31,384.88 147.94,385.49 146.58,386.23 145.21,387.24 143.84,388.44 142.47,389.75 141.10,391.20 139.73,392.87 138.36,394.50 136.99,395.83 135.62,396.98 134.26,398.00 132.89,398.83 131.52,399.46 130.15,399.99 128.78,400.44 127.41,400.86 126.04,401.26 124.68,401.62 123.31,401.91 121.94,402.11 120.57,402.28 119.20,402.42 117.83,402.51 116.46,402.59 115.09,402.65 113.72,402.69 112.36,402.67 110.99,402.63 109.62,402.56 108.25,402.48 106.88,402.36 105.51,402.20 104.14,402.01 102.78,401.81 101.41,401.57 100.04,401.28 98.67,400.93 97.30,400.47 95.93,399.90 94.56,399.22 93.19,398.40 91.83,397.35 90.46,396.13 89.09,394.85 87.72,393.37 86.35,391.76 84.98,390.26 83.61,389.03 82.24,387.92 80.88,386.94 79.51,386.14 78.14,385.50 76.77,384.94 75.40,384.48 74.03,384.09 72.66,383.77 71.29,383.49 69.93,383.23 68.56,382.98 67.19,382.75 65.82,382.55 64.45,382.39 63.08,382.25 61.71,382.13 60.34,382.01 58.98,381.88 57.61,381.73 56.24,381.59 54.87,381.46 53.50,381.34 52.13,381.25 50.76,381.19 49.39,381.16 48.03,381.12 46.66,381.10 45.29,381.08 43.92,381.06 42.55,381.06 41.18,381.06 39.81,381.06 38.44,381.06 37.08,381.06 35.71,381.06 34.34,381.06 32.97,381.06 31.60,381.06" fill="#2e49a5"/>
<polyline points="31.60,321.65 32.97,321.65 34.34,321.65 35.71,321.65 37.08,321.65 38.44,321.65 39.81,321.65 41.18,321.65 42.55,321.65 43.92,321.65 45.29,321.65 46.66,321.65 48.03,321.65 49.39,321.65 50.76,321.65 52.13,321.65 53.50,321.65 54.87,321.65 56.24,321.65 57.61,321.65 58.98,321.65 60.34,321.65 61.71,321.65 63.08,321.65 64.45,321.65 65.82,321.69 67.19,321.78 68.56,321.92 69.93,322.10 71.29,322.30 72.66,322.51 74.03,322.72 75.40,322.93 76.77,323.17 78.14,323.44 79.51,323.73 80.88,324.03 82.24,324.33 83.61,324.65 84.98,325.00 86.35,325.35 87.72,325.69 89.09,326.01 90.46,326.31 91.83,326.60 93.19,326.89 94.56,327.15 95.93,327.39 97.30,327.59 98.67,327.78 100.04,327.96 101.41,328.11 102.78,328.26 104.14,328.39 105.51,328.54 106.88,328.68 108.25,328.80 109.62,328.89 110.99,328.92 112.36,328.92 113.72,328.92 115.09,328.92 116.46,328.92 117.83,328.92 119.20,328.91 120.57,328.84 121.94,328.72 123.31,328.58 124.68,328.44 126.04,328.30 127.41,328.17 128.78,328.02 130.15,327.86 131.52,327.68 132.89,327.47 134.26,327.21 135.62,326.88 136.99,326.52 138.36,326.15 139.73,325.79 141.10,325.45 142.47,325.11 143.84,324.77 145.21,324.44 146.58,324.14 147.94,323.87 149.31,323.61 150.68,323.37 152.05,323.14 153.42,322.95 154.79,322.79 156.16,322.65 157.53,322.53 158.89,322.42 160.26,322.33 161.63,322.25 163.00,322.18 164.37,322.10 165.74,322.04 167.11,321.99 168.47,321.96 169.84,321.95 171.21,321.96 172.58,321.98 173.95,322.00 175.32,322.03 176.69,322.07 178.06,322.11 179.43,322.17 180.79,322.24 182.16,322.33 183.53,322.42 184.90,322.52 186.27,322.66 187.64,322.81 189.01,322.97 190.38,323.15 191.74,323.32 193.11,323.51 194.48,323.72 195.85,323.95 197.22,324.17 198.59,324.37 199.96,324.54 201.32,324.68 202.69,324.81 204.06,324.93 205.43,325.03 206.80,325.12 208.17,325.19 209.54,325.26 210.91,325.31 212.28,325.36 213.64,325.41 215.01,325.44 216.38,325.48 217.75,325.52 219.12,325.56 220.49,325.60 221.86,325.63 223.22,325.66 224.59,325.69 225.96,325.71 227.33,325.72 228.70,325.72 230.07,325.72 231.44,325.72 232.81,325.72 234.18,325.72 235.54,325.72 236.91,325.72 238.28,325.72 239.65,325.72 241.02,325.72 242.39,325.72 243.76,325.72 245.12,325.72 246.49,325.72 247.86,325.72 249.23,325.72 250.60,325.72" fill="none" stroke="#101010" stroke-width="1.12" stroke-dasharray="6.3 2.7 1.6 2.7"/>
<polyline points="31.60,351.90 32.97,351.90 34.34,351.90 35.71,351.90 37.08,351.90 38.44,351.90 39.81,351.90 41.18,351.90 42.55,351.90 43.92,351.90 45.29,351.90 46.66,351.90 48.03,351.90 49.39,351.90 50.76,351.90 52.13,351.90 53.50,351.90 54.87,351.90 56.24,351.90 57.61,351.90 58.98,351.90 60.34,351.90 61.71,351.90 63.08,351.90 64.45,351.90 65.82,351.94 67.19,352.05 68.56,352.22 69.93,352.43 71.29,352.69 72.66,352.96 74.03,353.25 75.40,353.55 76.77,353.95 78.14,354.42 79.51,354.94 80.88,355.51 82.24,356.10 83.61,356.79 84.98,357.56 86.35,358.37 87.72,359.17 89.09,359.90 90.46,360.59 91.83,361.28 93.19,361.94 94.56,362.55 95.93,363.07 97.30,363.50 98.67,363.88 100.04,364.23 101.41,364.53 102.78,364.82 104.14,365.09 105.51,365.37 106.88,365.66 108.25,365.91 109.62,366.09 110.99,366.16 112.36,366.16 113.72,366.16 115.09,366.16 116.46,366.16 117.83,366.16 119.20,366.14 120.57,366.05 121.94,365.92 123.31,365.74 124.68,365.55 126.04,365.36 127.41,365.14 128.78,364.87 130.15,364.57 131.52,364.22 132.89,363.82 134.26,363.33 135.62,362.70 136.99,361.99 138.36,361.24 139.73,360.49 141.10,359.76 142.47,358.97 143.84,358.16 145.21,357.37 146.58,356.65 147.94,356.02 149.31,355.42 150.68,354.85 152.05,354.34 153.42,353.91 154.79,353.59 156.16,353.35 157.53,353.13 158.89,352.95 160.26,352.80 161.63,352.67 163.00,352.55 164.37,352.44 165.74,352.33 167.11,352.25 168.47,352.20 169.84,352.20 171.21,352.21 172.58,352.25 173.95,352.29 175.32,352.34 176.69,352.40 178.06,352.48 179.43,352.59 180.79,352.73 182.16,352.89 183.53,353.06 184.90,353.25 186.27,353.50 187.64,353.80 189.01,354.12 190.38,354.47 191.74,354.80 193.11,355.15 194.48,355.52 195.85,355.91 197.22,356.29 198.59,356.65 199.96,356.97 201.32,357.25 202.69,357.52 204.06,357.77 205.43,358.01 206.80,358.22 208.17,358.42 209.54,358.64 210.91,358.85 212.28,359.02 213.64,359.14 215.01,359.19 216.38,359.20 217.75,359.20 219.12,359.21 220.49,359.17 221.86,359.08 223.22,359.01 224.59,358.94 225.96,358.87 227.33,358.80 228.70,358.77 230.07,358.75 231.44,358.74 232.81,358.73 234.18,358.72 235.54,358.71 236.91,358.70 238.28,358.70 239.65,358.69 241.02,358.69 242.39,358.68 243.76,358.68 245.12,358.67 246.49,358.67 247.86,358.67 249.23,358.67 250.60,358.67" fill="none" stroke="#101010" stroke-width="1.12" stroke-dasharray="6.3 2.7 1.6 2.7"/>
<polyline points="31.60,291.91 32.97,291.91 34.34,291.91 35.71,291.91 37.08,291.91 38.44,291.91 39.81,291.91 41.18,291.91 42.55,291.91 43.92,291.91 45.29,291.91 46.66,291.91 48.03,291.91 49.39,291.91 50.76,291.91 52.13,291.91 53.50,291.91 54.87,291.91 56.24,291.91 57.61,291.91 58.98,291.91 60.34,291.91 61.71,291.91 63.08,291.91 64.45,291.91 65.82,291.91 67.19,291.91 68.56,291.91 69.93,291.91 71.29,291.91 72.66,291.91 74.03,291.91 75.40,291.91 76.77,291.91 78.14,291.91 79.51,291.91 80.88,291.91 82.24,291.91 83.61,291.91 84.98,291.91 86.35,291.91 87.72,291.91 89.09,291.91 90.46,291.91 91.83,291.91 93.19,291.91 94.56,291.91 95.93,291.91 97.30,291.91 98.67,291.91 100.04,291.91 101.41,291.91 102.78,291.91 104.14,291.91 105.51,291.91 106.88,291.91 108.25,291.91 109.62,291.91 110.99,291.91 112.36,291.91 113.72,291.91 115.09,291.91 116.46,291.91 117.83,291.91 119.20,291.91 120.57,291.91 121.94,291.91 123.31,291.91 124.68,291.91 126.04,291.91 127.41,291.91 128.78,291.91 130.15,291.91 131.52,291.91 132.89,291.91 134.26,291.91 135.62,291.91 136.99,291.91 138.36,291.91 139.73,291.91 141.10,291.91 142.47,291.91 143.84,291.91 145.21,291.91 146.58,291.91 147.94,291.91 149.31,291.91 150.68,291.91 152.05,291.91 153.42,291.91 154.79,291.91 156.16,291.91 157.53,291.91 158.89,291.91 160.26,291.91 161.63,291.91 163.00,291.91 164.37,291.91 165.74,291.91 167.11,291.91 168.47,291.91 169.84,291.91 171.21,291.91 172.58,291.91 173.95,291.91 175.32,291.91 176.69,291.91 178.06,291.91 179.43,291.91 180.79,291.91 182.16,291.91 183.53,291.91 184.90,291.91 186.27,291.91 187.64,291.91 189.01,291.91 190.38,291.91 191.74,291.91 193.11,291.91 194.48,291.91 195.85,291.91 197.22,291.91 198.59,291.91 199.96,291.91 201.32,291.91 202.69,291.91 204.06,291.91 205.43,291.91 206.80,291.91 208.17,291.91 209.54,291.91 210.91,291.91 212.28,291.91 213.64,291.91 215.01,291.91 216.38,291.91 217.75,291.91 219.12,291.91 220.49,291.91 221.86,291.91 223.22,291.91 224.59,291.91 225.96,291.91 227.33,291.91 228.70,291.91 230.07,291.91 231.44,291.91 232.81,291.91 234.18,291.91 235.54,291.91 236.91,291.91 238.28,291.91 239.65,291.91 241.02,291.91 242.39,291.91 243.76,291.91 245.12,291.91 246.49,291.91 247.86,291.91 249.23,291.91 250.60,291.91" fill="none" stroke="#ee1c25" stroke-width="2.2" stroke-dasharray="10.2 4.6 2.4 4.6" stroke-dashoffset="0.8"/>
<path d="M31.60 251.20V427.60H250.60" fill="none" stroke="#444" stroke-width="1.25"/>
<line x1="31.60" y1="414.03" x2="34.90" y2="414.03" stroke="#222" stroke-width="1"/>
<text font-size="10.60px" transform="translate(27.20 417.79) scale(0.860 1.08)" text-anchor="end">3</text>
<line x1="31.60" y1="373.32" x2="34.90" y2="373.32" stroke="#222" stroke-width="1"/>
<text font-size="10.60px" transform="translate(27.20 377.09) scale(0.860 1.08)" text-anchor="end">6</text>
<line x1="31.60" y1="332.62" x2="34.90" y2="332.62" stroke="#222" stroke-width="1"/>
<text font-size="10.60px" transform="translate(27.20 336.38) scale(0.860 1.08)" text-anchor="end">9</text>
<line x1="31.60" y1="291.91" x2="34.90" y2="291.91" stroke="#222" stroke-width="1"/>
<text font-size="10.60px" transform="translate(27.20 295.67) scale(0.860 1.08)" text-anchor="end">12</text>
<line x1="31.60" y1="251.20" x2="34.90" y2="251.20" stroke="#222" stroke-width="1"/>
<text font-size="10.60px" transform="translate(27.20 254.96) scale(0.860 1.08)" text-anchor="end">15</text>
<line x1="31.60" y1="427.60" x2="31.60" y2="424.30" stroke="#222" stroke-width="1"/>
<text font-size="10.60px" x="33.20" y="441.10" text-anchor="middle">0:00</text>
<line x1="86.35" y1="427.60" x2="86.35" y2="424.30" stroke="#222" stroke-width="1"/>
<text font-size="10.60px" x="87.95" y="441.10" text-anchor="middle">2:00</text>
<line x1="141.10" y1="427.60" x2="141.10" y2="424.30" stroke="#222" stroke-width="1"/>
<text font-size="10.60px" x="142.70" y="441.10" text-anchor="middle">4:00</text>
<line x1="195.85" y1="427.60" x2="195.85" y2="424.30" stroke="#222" stroke-width="1"/>
<text font-size="10.60px" x="197.45" y="441.10" text-anchor="middle">6:00</text>
<line x1="250.60" y1="427.60" x2="250.60" y2="424.30" stroke="#222" stroke-width="1"/>
<text font-size="10.60px" x="252.20" y="441.10" text-anchor="middle">8:00</text>
<text font-size="11.10px" x="141.10" y="453.90" text-anchor="middle">Time</text>
<text font-size="11.60px" transform="translate(12.10 338.60) rotate(-90)" text-anchor="middle">Charging Power (kW)</text>
<text font-size="12.30px" x="132.30" y="477.20" text-anchor="middle">(<tspan font-weight="bold">e</tspan>)</text>
<rect x="171.50" y="256.60" width="19.00" height="8.30" fill="#abddc6"/>
<text x="192.90" y="263.55" font-size="7.56px" class="lg">Electric Vehicle #1</text>
<rect x="171.50" y="267.10" width="19.00" height="8.30" fill="#f9a21c"/>
<text x="192.90" y="274.05" font-size="7.56px" class="lg">Electric Vehicle #2</text>
<rect x="171.50" y="277.70" width="19.00" height="8.30" fill="#2e49a5"/>
<text x="192.90" y="284.65" font-size="7.56px" class="lg">Electric Vehicle #3</text>
</g>
<g id="panel-f">
<polyline points="316.20,381.64 317.58,381.64 318.95,381.64 320.33,381.64 321.70,381.64 323.08,381.64 324.46,381.64 325.83,381.64 327.21,381.64 328.59,381.64 329.96,381.66 331.34,381.68 332.71,381.70 334.09,381.74 335.47,381.77 336.84,381.83 338.22,381.92 339.60,382.04 340.97,382.17 342.35,382.31 343.72,382.45 345.10,382.58 346.48,382.71 347.85,382.83 349.23,382.97 350.61,383.13 351.98,383.33 353.36,383.56 354.74,383.80 356.11,384.06 357.49,384.34 358.86,384.67 360.24,385.05 361.62,385.51 362.99,386.07 364.37,386.71 365.75,387.51 367.12,388.48 368.50,389.60 369.87,390.82 371.25,392.32 372.63,393.93 374.00,395.41 375.38,396.68 376.75,397.90 378.13,398.95 379.51,399.77 380.88,400.45 382.26,401.02 383.64,401.47 385.01,401.82 386.39,402.11 387.76,402.35 389.14,402.56 390.52,402.74 391.89,402.90 393.27,403.02 394.65,403.10 396.02,403.17 397.40,403.22 398.77,403.23 400.15,403.20 401.53,403.13 402.90,403.06 404.28,402.96 405.66,402.83 407.03,402.66 408.41,402.45 409.78,402.17 411.16,401.81 412.54,401.40 413.91,400.99 415.29,400.53 416.67,400.01 418.04,399.38 419.42,398.55 420.79,397.53 422.17,396.38 423.55,395.06 424.92,393.43 426.30,391.76 427.68,390.31 429.05,389.01 430.43,387.81 431.81,386.80 433.18,386.06 434.56,385.45 435.93,384.94 437.31,384.50 438.69,384.12 440.06,383.80 441.44,383.51 442.81,383.24 444.19,382.99 445.57,382.77 446.94,382.57 448.32,382.40 449.70,382.26 451.07,382.11 452.45,381.94 453.82,381.75 455.20,381.56 456.58,381.37 457.95,381.17 459.33,380.98 460.71,380.77 462.08,380.56 463.46,380.33 464.83,380.08 466.21,379.81 467.59,379.51 468.96,379.17 470.34,378.78 471.72,378.32 473.09,377.75 474.47,377.07 475.85,376.26 477.22,375.17 478.60,373.80 479.97,372.33 481.35,370.92 482.73,369.41 484.10,367.93 485.48,366.67 486.86,365.66 488.23,364.78 489.61,364.00 490.98,363.31 492.36,362.66 493.74,362.09 495.11,361.63 496.49,361.27 497.87,360.97 499.24,360.72 500.62,360.48 501.99,360.25 503.37,360.05 504.75,359.90 506.12,359.79 507.50,359.70 508.88,359.63 510.25,359.56 511.63,359.48 513.00,359.42 514.38,359.38 515.76,359.37 517.13,359.36 518.51,359.35 519.88,359.34 521.26,359.33 522.64,359.32 524.01,359.31 525.39,359.31 526.77,359.30 528.14,359.30 529.52,359.29 530.89,359.29 532.27,359.29 533.65,359.29 535.02,359.29 536.40,359.29" fill="none" stroke="#000" stroke-width="3.2" stroke-dasharray="10.2 4.6 2.4 4.6" stroke-dashoffset="0.8"/>
<polygon points="316.20,292.64 317.58,292.64 318.95,292.64 320.33,292.64 321.70,292.64 323.08,292.64 324.46,292.64 325.83,292.64 327.21,292.64 328.59,292.64 329.96,292.64 331.34,292.64 332.71,292.64 334.09,292.64 335.47,292.64 336.84,292.64 338.22,292.64 339.60,292.64 340.97,292.64 342.35,292.64 343.72,292.64 345.10,292.64 346.48,292.64 347.85,292.64 349.23,292.64 350.61,292.64 351.98,292.64 353.36,292.64 354.74,292.64 356.11,292.64 357.49,292.64 358.86,292.64 360.24,292.64 361.62,292.64 362.99,292.64 364.37,292.64 365.75,292.64 367.12,292.64 368.50,292.64 369.87,292.64 371.25,292.64 372.63,292.64 374.00,292.64 375.38,292.64 376.75,292.64 378.13,292.64 379.51,292.64 380.88,292.64 382.26,292.64 383.64,292.64 385.01,292.64 386.39,292.64 387.76,292.64 389.14,292.64 390.52,292.64 391.89,292.64 393.27,292.64 394.65,292.64 396.02,292.64 397.40,292.64 398.77,292.64 400.15,292.64 401.53,292.64 402.90,292.64 404.28,292.64 405.66,292.64 407.03,292.64 408.41,292.64 409.78,292.64 411.16,292.64 412.54,292.64 413.91,292.64 415.29,292.64 416.67,292.64 418.04,292.64 419.42,292.64 420.79,292.64 422.17,292.64 423.55,292.64 424.92,292.64 426.30,292.64 427.68,292.64 429.05,292.64 430.43,292.64 431.81,292.64 433.18,292.64 434.56,292.64 435.93,292.64 437.31,292.64 438.69,292.64 440.06,292.64 441.44,292.64 442.81,292.64 444.19,292.64 445.57,292.64 446.94,292.64 448.32,292.64 449.70,292.64 451.07,292.64 452.45,292.64 453.82,292.64 455.20,292.64 456.58,292.64 457.95,292.64 459.33,292.64 460.71,292.64 462.08,292.64 463.46,292.64 464.83,292.64 466.21,292.64 467.59,292.64 468.96,292.64 470.34,292.64 471.72,292.64 473.09,292.64 474.47,292.64 475.85,292.64 477.22,292.64 478.60,292.64 479.97,292.64 481.35,292.64 482.73,292.64 484.10,292.64 485.48,292.64 486.86,292.64 488.23,292.64 489.61,292.64 490.98,292.64 492.36,292.64 493.74,292.64 495.11,292.64 496.49,292.64 497.87,292.64 499.24,292.64 500.62,292.64 501.99,292.64 503.37,292.64 504.75,292.64 506.12,292.64 507.50,292.64 508.88,292.64 510.25,292.64 511.63,292.64 513.00,292.64 514.38,292.64 515.76,292.64 517.13,292.64 518.51,292.64 519.88,292.64 521.26,292.64 522.64,292.64 524.01,292.64 525.39,292.64 526.77,292.64 528.14,292.64 529.52,292.64 530.89,292.64 532.27,292.64 533.65,292.64 535.02,292.64 536.40,292.64 536.40,326.40 535.02,326.40 533.65,326.40 532.27,326.40 530.89,326.40 529.52,326.40 528.14,326.40 526.77,326.40 525.39,326.40 524.01,326.40 522.64,326.40 521.26,326.40 519.88,326.40 518.51,326.40 517.13,326.40 515.76,326.40 514.38,326.40 513.00,326.39 511.63,326.38 510.25,326.36 508.88,326.33 507.50,326.30 506.12,326.27 504.75,326.23 503.37,326.20 501.99,326.16 500.62,326.12 499.24,326.08 497.87,326.04 496.49,325.99 495.11,325.93 493.74,325.87 492.36,325.80 490.98,325.71 489.61,325.61 488.23,325.49 486.86,325.36 485.48,325.22 484.10,325.04 482.73,324.83 481.35,324.59 479.97,324.35 478.60,324.11 477.22,323.90 475.85,323.73 474.47,323.57 473.09,323.42 471.72,323.28 470.34,323.16 468.96,323.05 467.59,322.96 466.21,322.87 464.83,322.80 463.46,322.73 462.08,322.67 460.71,322.61 459.33,322.55 457.95,322.50 456.58,322.45 455.20,322.42 453.82,322.41 452.45,322.42 451.07,322.45 449.70,322.48 448.32,322.52 446.94,322.56 445.57,322.61 444.19,322.69 442.81,322.77 441.44,322.86 440.06,322.96 438.69,323.07 437.31,323.18 435.93,323.30 434.56,323.45 433.18,323.61 431.81,323.82 430.43,324.11 429.05,324.48 427.68,324.90 426.30,325.31 424.92,325.70 423.55,326.09 422.17,326.50 420.79,326.90 419.42,327.27 418.04,327.60 416.67,327.87 415.29,328.13 413.91,328.36 412.54,328.57 411.16,328.75 409.78,328.91 408.41,329.05 407.03,329.17 405.66,329.29 404.28,329.40 402.90,329.51 401.53,329.62 400.15,329.74 398.77,329.85 397.40,329.95 396.02,330.03 394.65,330.08 393.27,330.13 391.89,330.17 390.52,330.21 389.14,330.27 387.76,330.35 386.39,330.46 385.01,330.60 383.64,330.76 382.26,330.94 380.88,331.11 379.51,331.31 378.13,331.53 376.75,331.77 375.38,332.03 374.00,332.32 372.63,332.68 371.25,333.10 369.87,333.55 368.50,333.99 367.12,334.37 365.75,334.70 364.37,335.02 362.99,335.31 361.62,335.58 360.24,335.82 358.86,336.03 357.49,336.22 356.11,336.40 354.74,336.56 353.36,336.69 351.98,336.79 350.61,336.86 349.23,336.93 347.85,336.98 346.48,337.03 345.10,337.07 343.72,337.11 342.35,337.14 340.97,337.18 339.60,337.21 338.22,337.25 336.84,337.27 335.47,337.30 334.09,337.32 332.71,337.33 331.34,337.34 329.96,337.34 328.59,337.34 327.21,337.34 325.83,337.34 324.46,337.34 323.08,337.34 321.70,337.34 320.33,337.34 318.95,337.34 317.58,337.34 316.20,337.34" fill="#abddc6"/>
<polygon points="316.20,337.34 317.58,337.34 318.95,337.34 320.33,337.34 321.70,337.34 323.08,337.34 324.46,337.34 325.83,337.34 327.21,337.34 328.59,337.34 329.96,337.34 331.34,337.34 332.71,337.33 334.09,337.32 335.47,337.30 336.84,337.27 338.22,337.25 339.60,337.21 340.97,337.18 342.35,337.14 343.72,337.11 345.10,337.07 346.48,337.03 347.85,336.98 349.23,336.93 350.61,336.86 351.98,336.79 353.36,336.69 354.74,336.56 356.11,336.40 357.49,336.22 358.86,336.03 360.24,335.82 361.62,335.58 362.99,335.31 364.37,335.02 365.75,334.70 367.12,334.37 368.50,333.99 369.87,333.55 371.25,333.10 372.63,332.68 374.00,332.32 375.38,332.03 376.75,331.77 378.13,331.53 379.51,331.31 380.88,331.11 382.26,330.94 383.64,330.76 385.01,330.60 386.39,330.46 387.76,330.35 389.14,330.27 390.52,330.21 391.89,330.17 393.27,330.13 394.65,330.08 396.02,330.03 397.40,329.95 398.77,329.85 400.15,329.74 401.53,329.62 402.90,329.51 404.28,329.40 405.66,329.29 407.03,329.17 408.41,329.05 409.78,328.91 411.16,328.75 412.54,328.57 413.91,328.36 415.29,328.13 416.67,327.87 418.04,327.60 419.42,327.27 420.79,326.90 422.17,326.50 423.55,326.09 424.92,325.70 426.30,325.31 427.68,324.90 429.05,324.48 430.43,324.11 431.81,323.82 433.18,323.61 434.56,323.45 435.93,323.30 437.31,323.18 438.69,323.07 440.06,322.96 441.44,322.86 442.81,322.77 444.19,322.69 445.57,322.61 446.94,322.56 448.32,322.52 449.70,322.48 451.07,322.45 452.45,322.42 453.82,322.41 455.20,322.42 456.58,322.45 457.95,322.50 459.33,322.55 460.71,322.61 462.08,322.67 463.46,322.73 464.83,322.80 466.21,322.87 467.59,322.96 468.96,323.05 470.34,323.16 471.72,323.28 473.09,323.42 474.47,323.57 475.85,323.73 477.22,323.90 478.60,324.11 479.97,324.35 481.35,324.59 482.73,324.83 484.10,325.04 485.48,325.22 486.86,325.36 488.23,325.49 489.61,325.61 490.98,325.71 492.36,325.80 493.74,325.87 495.11,325.93 496.49,325.99 497.87,326.04 499.24,326.08 500.62,326.12 501.99,326.16 503.37,326.20 504.75,326.23 506.12,326.27 507.50,326.30 508.88,326.33 510.25,326.36 511.63,326.38 513.00,326.39 514.38,326.40 515.76,326.40 517.13,326.40 518.51,326.40 519.88,326.40 521.26,326.40 522.64,326.40 524.01,326.40 525.39,326.40 526.77,326.40 528.14,326.40 529.52,326.40 530.89,326.40 532.27,326.40 533.65,326.40 535.02,326.40 536.40,326.40 536.40,359.29 535.02,359.29 533.65,359.29 532.27,359.29 530.89,359.29 529.52,359.29 528.14,359.30 526.77,359.30 525.39,359.31 524.01,359.31 522.64,359.32 521.26,359.33 519.88,359.34 518.51,359.35 517.13,359.36 515.76,359.37 514.38,359.38 513.00,359.42 511.63,359.48 510.25,359.56 508.88,359.63 507.50,359.70 506.12,359.79 504.75,359.83 503.37,359.82 501.99,359.81 500.62,359.80 499.24,359.76 497.87,359.64 496.49,359.46 495.11,359.26 493.74,359.04 492.36,358.84 490.98,358.63 489.61,358.40 488.23,358.15 486.86,357.88 485.48,357.59 484.10,357.26 482.73,356.88 481.35,356.47 479.97,356.06 478.60,355.66 477.22,355.29 475.85,354.96 474.47,354.64 473.09,354.33 471.72,354.04 470.34,353.79 468.96,353.60 467.59,353.44 466.21,353.29 464.83,353.16 463.46,353.06 462.08,352.98 460.71,352.93 459.33,352.89 457.95,352.86 456.58,352.83 455.20,352.81 453.82,352.81 452.45,352.83 451.07,352.88 449.70,352.95 448.32,353.03 446.94,353.11 445.57,353.20 444.19,353.31 442.81,353.45 441.44,353.60 440.06,353.78 438.69,353.99 437.31,354.25 435.93,354.57 434.56,354.94 433.18,355.36 431.81,355.83 430.43,356.47 429.05,357.24 427.68,358.08 426.30,358.92 424.92,359.71 423.55,360.53 422.17,361.39 420.79,362.22 419.42,362.98 418.04,363.59 416.67,364.05 415.29,364.46 413.91,364.81 412.54,365.12 411.16,365.41 409.78,365.67 408.41,365.89 407.03,366.10 405.66,366.29 404.28,366.49 402.90,366.71 401.53,366.95 400.15,367.21 398.77,367.46 397.40,367.71 396.02,367.96 394.65,368.18 393.27,368.40 391.89,368.62 390.52,368.84 389.14,369.08 387.76,369.32 386.39,369.57 385.01,369.82 383.64,370.09 382.26,370.40 380.88,370.74 379.51,371.15 378.13,371.62 376.75,372.12 375.38,372.66 374.00,373.22 372.63,373.84 371.25,374.53 369.87,375.24 368.50,375.94 367.12,376.58 365.75,377.16 364.37,377.74 362.99,378.29 361.62,378.79 360.24,379.20 358.86,379.51 357.49,379.78 356.11,380.02 354.74,380.23 353.36,380.42 351.98,380.59 350.61,380.73 349.23,380.86 347.85,380.98 346.48,381.10 345.10,381.23 343.72,381.39 342.35,381.56 340.97,381.64 339.60,381.64 338.22,381.64 336.84,381.64 335.47,381.64 334.09,381.64 332.71,381.64 331.34,381.64 329.96,381.64 328.59,381.64 327.21,381.64 325.83,381.64 324.46,381.64 323.08,381.64 321.70,381.64 320.33,381.64 318.95,381.64 317.58,381.64 316.20,381.64" fill="#f9a21c"/>
<polygon points="316.20,381.64 317.58,381.64 318.95,381.64 320.33,381.64 321.70,381.64 323.08,381.64 324.46,381.64 325.83,381.64 327.21,381.64 328.59,381.64 329.96,381.64 331.34,381.64 332.71,381.64 334.09,381.64 335.47,381.64 336.84,381.64 338.22,381.64 339.60,381.64 340.97,381.64 342.35,381.56 343.72,381.39 345.10,381.23 346.48,381.10 347.85,380.98 349.23,380.86 350.61,380.73 351.98,380.59 353.36,380.42 354.74,380.23 356.11,380.02 357.49,379.78 358.86,379.51 360.24,379.20 361.62,378.79 362.99,378.29 364.37,377.74 365.75,377.16 367.12,376.58 368.50,375.94 369.87,375.24 371.25,374.53 372.63,373.84 374.00,373.22 375.38,372.66 376.75,372.12 378.13,371.62 379.51,371.15 380.88,370.74 382.26,370.40 383.64,370.09 385.01,369.82 386.39,369.57 387.76,369.32 389.14,369.08 390.52,368.84 391.89,368.62 393.27,368.40 394.65,368.18 396.02,367.96 397.40,367.71 398.77,367.46 400.15,367.21 401.53,366.95 402.90,366.71 404.28,366.49 405.66,366.29 407.03,366.10 408.41,365.89 409.78,365.67 411.16,365.41 412.54,365.12 413.91,364.81 415.29,364.46 416.67,364.05 418.04,363.59 419.42,362.98 420.79,362.22 422.17,361.39 423.55,360.53 424.92,359.71 426.30,358.92 427.68,358.08 429.05,357.24 430.43,356.47 431.81,355.83 433.18,355.36 434.56,354.94 435.93,354.57 437.31,354.25 438.69,353.99 440.06,353.78 441.44,353.60 442.81,353.45 444.19,353.31 445.57,353.20 446.94,353.11 448.32,353.03 449.70,352.95 451.07,352.88 452.45,352.83 453.82,352.81 455.20,352.81 456.58,352.83 457.95,352.86 459.33,352.89 460.71,352.93 462.08,352.98 463.46,353.06 464.83,353.16 466.21,353.29 467.59,353.44 468.96,353.60 470.34,353.79 471.72,354.04 473.09,354.33 474.47,354.64 475.85,354.96 477.22,355.29 478.60,355.66 479.97,356.06 481.35,356.47 482.73,356.88 484.10,357.26 485.48,357.59 486.86,357.88 488.23,358.15 489.61,358.40 490.98,358.63 492.36,358.84 493.74,359.04 495.11,359.26 496.49,359.46 497.87,359.64 499.24,359.76 500.62,359.80 501.99,359.81 503.37,359.82 504.75,359.83 506.12,359.79 507.50,359.70 508.88,359.63 510.25,359.56 511.63,359.48 513.00,359.42 514.38,359.38 515.76,359.37 517.13,359.36 518.51,359.35 519.88,359.34 521.26,359.33 522.64,359.32 524.01,359.31 525.39,359.31 526.77,359.30 528.14,359.30 529.52,359.29 530.89,359.29 532.27,359.29 533.65,359.29 535.02,359.29 536.40,359.29 536.40,359.29 535.02,359.29 533.65,359.29 532.27,359.29 530.89,359.29 529.52,359.29 528.14,359.30 526.77,359.30 525.39,359.31 524.01,359.31 522.64,359.32 521.26,359.33 519.88,359.34 518.51,359.35 517.13,359.36 515.76,359.37 514.38,359.38 513.00,359.42 511.63,359.48 510.25,359.56 508.88,359.63 507.50,359.70 506.12,359.79 504.75,359.90 503.37,360.05 501.99,360.25 500.62,360.48 499.24,360.72 497.87,360.97 496.49,361.27 495.11,361.63 493.74,362.09 492.36,362.66 490.98,363.31 489.61,364.00 488.23,364.78 486.86,365.66 485.48,366.67 484.10,367.93 482.73,369.41 481.35,370.92 479.97,372.33 478.60,373.80 477.22,375.17 475.85,376.26 474.47,377.07 473.09,377.75 471.72,378.32 470.34,378.78 468.96,379.17 467.59,379.51 466.21,379.81 464.83,380.08 463.46,380.33 462.08,380.56 460.71,380.77 459.33,380.98 457.95,381.17 456.58,381.37 455.20,381.56 453.82,381.75 452.45,381.94 451.07,382.11 449.70,382.26 448.32,382.40 446.94,382.57 445.57,382.77 444.19,382.99 442.81,383.24 441.44,383.51 440.06,383.80 438.69,384.12 437.31,384.50 435.93,384.94 434.56,385.45 433.18,386.06 431.81,386.80 430.43,387.81 429.05,389.01 427.68,390.31 426.30,391.76 424.92,393.43 423.55,395.06 422.17,396.38 420.79,397.53 419.42,398.55 418.04,399.38 416.67,400.01 415.29,400.53 413.91,400.99 412.54,401.40 411.16,401.81 409.78,402.17 408.41,402.45 407.03,402.66 405.66,402.83 404.28,402.96 402.90,403.06 401.53,403.13 400.15,403.20 398.77,403.23 397.40,403.22 396.02,403.17 394.65,403.10 393.27,403.02 391.89,402.90 390.52,402.74 389.14,402.56 387.76,402.35 386.39,402.11 385.01,401.82 383.64,401.47 382.26,401.02 380.88,400.45 379.51,399.77 378.13,398.95 376.75,397.90 375.38,396.68 374.00,395.41 372.63,393.93 371.25,392.32 369.87,390.82 368.50,389.60 367.12,388.48 365.75,387.51 364.37,386.71 362.99,386.07 361.62,385.51 360.24,385.05 358.86,384.67 357.49,384.34 356.11,384.06 354.74,383.80 353.36,383.56 351.98,383.33 350.61,383.13 349.23,382.97 347.85,382.83 346.48,382.71 345.10,382.58 343.72,382.45 342.35,382.31 340.97,382.17 339.60,382.04 338.22,381.92 336.84,381.83 335.47,381.77 334.09,381.74 332.71,381.70 331.34,381.68 329.96,381.66 328.59,381.64 327.21,381.64 325.83,381.64 324.46,381.64 323.08,381.64 321.70,381.64 320.33,381.64 318.95,381.64 317.58,381.64 316.20,381.64" fill="#2e49a5"/>
<polyline points="316.20,337.34 317.58,337.34 318.95,337.34 320.33,337.34 321.70,337.34 323.08,337.34 324.46,337.34 325.83,337.34 327.21,337.34 328.59,337.34 329.96,337.34 331.34,337.34 332.71,337.33 334.09,337.32 335.47,337.30 336.84,337.27 338.22,337.25 339.60,337.21 340.97,337.18 342.35,337.14 343.72,337.11 345.10,337.07 346.48,337.03 347.85,336.98 349.23,336.93 350.61,336.86 351.98,336.79 353.36,336.69 354.74,336.56 356.11,336.40 357.49,336.22 358.86,336.03 360.24,335.82 361.62,335.58 362.99,335.31 364.37,335.02 365.75,334.70 367.12,334.37 368.50,333.99 369.87,333.55 371.25,333.10 372.63,332.68 374.00,332.32 375.38,332.03 376.75,331.77 378.13,331.53 379.51,331.31 380.88,331.11 382.26,330.94 383.64,330.76 385.01,330.60 386.39,330.46 387.76,330.35 389.14,330.27 390.52,330.21 391.89,330.17 393.27,330.13 394.65,330.08 396.02,330.03 397.40,329.95 398.77,329.85 400.15,329.74 401.53,329.62 402.90,329.51 404.28,329.40 405.66,329.29 407.03,329.17 408.41,329.05 409.78,328.91 411.16,328.75 412.54,328.57 413.91,328.36 415.29,328.13 416.67,327.87 418.04,327.60 419.42,327.27 420.79,326.90 422.17,326.50 423.55,326.09 424.92,325.70 426.30,325.31 427.68,324.90 429.05,324.48 430.43,324.11 431.81,323.82 433.18,323.61 434.56,323.45 435.93,323.30 437.31,323.18 438.69,323.07 440.06,322.96 441.44,322.86 442.81,322.77 444.19,322.69 445.57,322.61 446.94,322.56 448.32,322.52 449.70,322.48 451.07,322.45 452.45,322.42 453.82,322.41 455.20,322.42 456.58,322.45 457.95,322.50 459.33,322.55 460.71,322.61 462.08,322.67 463.46,322.73 464.83,322.80 466.21,322.87 467.59,322.96 468.96,323.05 470.34,323.16 471.72,323.28 473.09,323.42 474.47,323.57 475.85,323.73 477.22,323.90 478.60,324.11 479.97,324.35 481.35,324.59 482.73,324.83 484.10,325.04 485.48,325.22 486.86,325.36 488.23,325.49 489.61,325.61 490.98,325.71 492.36,325.80 493.74,325.87 495.11,325.93 496.49,325.99 497.87,326.04 499.24,326.08 500.62,326.12 501.99,326.16 503.37,326.20 504.75,326.23 506.12,326.27 507.50,326.30 508.88,326.33 510.25,326.36 511.63,326.38 513.00,326.39 514.38,326.40 515.76,326.40 517.13,326.40 518.51,326.40 519.88,326.40 521.26,326.40 522.64,326.40 524.01,326.40 525.39,326.40 526.77,326.40 528.14,326.40 529.52,326.40 530.89,326.40 532.27,326.40 533.65,326.40 535.02,326.40 536.40,326.40" fill="none" stroke="#101010" stroke-width="1.12" stroke-dasharray="6.3 2.7 1.6 2.7"/>
<polyline points="316.20,381.64 317.58,381.64 318.95,381.64 320.33,381.64 321.70,381.64 323.08,381.64 324.46,381.64 325.83,381.64 327.21,381.64 328.59,381.64 329.96,381.64 331.34,381.64 332.71,381.64 334.09,381.64 335.47,381.64 336.84,381.64 338.22,381.64 339.60,381.64 340.97,381.64 342.35,381.56 343.72,381.39 345.10,381.23 346.48,381.10 347.85,380.98 349.23,380.86 350.61,380.73 351.98,380.59 353.36,380.42 354.74,380.23 356.11,380.02 357.49,379.78 358.86,379.51 360.24,379.20 361.62,378.79 362.99,378.29 364.37,377.74 365.75,377.16 367.12,376.58 368.50,375.94 369.87,375.24 371.25,374.53 372.63,373.84 374.00,373.22 375.38,372.66 376.75,372.12 378.13,371.62 379.51,371.15 380.88,370.74 382.26,370.40 383.64,370.09 385.01,369.82 386.39,369.57 387.76,369.32 389.14,369.08 390.52,368.84 391.89,368.62 393.27,368.40 394.65,368.18 396.02,367.96 397.40,367.71 398.77,367.46 400.15,367.21 401.53,366.95 402.90,366.71 404.28,366.49 405.66,366.29 407.03,366.10 408.41,365.89 409.78,365.67 411.16,365.41 412.54,365.12 413.91,364.81 415.29,364.46 416.67,364.05 418.04,363.59 419.42,362.98 420.79,362.22 422.17,361.39 423.55,360.53 424.92,359.71 426.30,358.92 427.68,358.08 429.05,357.24 430.43,356.47 431.81,355.83 433.18,355.36 434.56,354.94 435.93,354.57 437.31,354.25 438.69,353.99 440.06,353.78 441.44,353.60 442.81,353.45 444.19,353.31 445.57,353.20 446.94,353.11 448.32,353.03 449.70,352.95 451.07,352.88 452.45,352.83 453.82,352.81 455.20,352.81 456.58,352.83 457.95,352.86 459.33,352.89 460.71,352.93 462.08,352.98 463.46,353.06 464.83,353.16 466.21,353.29 467.59,353.44 468.96,353.60 470.34,353.79 471.72,354.04 473.09,354.33 474.47,354.64 475.85,354.96 477.22,355.29 478.60,355.66 479.97,356.06 481.35,356.47 482.73,356.88 484.10,357.26 485.48,357.59 486.86,357.88 488.23,358.15 489.61,358.40 490.98,358.63 492.36,358.84 493.74,359.04 495.11,359.26 496.49,359.46 497.87,359.64 499.24,359.76 500.62,359.80 501.99,359.81 503.37,359.82 504.75,359.83 506.12,359.79 507.50,359.70 508.88,359.63 510.25,359.56 511.63,359.48 513.00,359.42 514.38,359.38 515.76,359.37 517.13,359.36 518.51,359.35 519.88,359.34 521.26,359.33 522.64,359.32 524.01,359.31 525.39,359.31 526.77,359.30 528.14,359.30 529.52,359.29 530.89,359.29 532.27,359.29 533.65,359.29 535.02,359.29 536.40,359.29" fill="none" stroke="#101010" stroke-width="1.12" stroke-dasharray="6.3 2.7 1.6 2.7"/>
<polyline points="316.20,292.64 317.58,292.64 318.95,292.64 320.33,292.64 321.70,292.64 323.08,292.64 324.46,292.64 325.83,292.64 327.21,292.64 328.59,292.64 329.96,292.64 331.34,292.64 332.71,292.64 334.09,292.64 335.47,292.64 336.84,292.64 338.22,292.64 339.60,292.64 340.97,292.64 342.35,292.64 343.72,292.64 345.10,292.64 346.48,292.64 347.85,292.64 349.23,292.64 350.61,292.64 351.98,292.64 353.36,292.64 354.74,292.64 356.11,292.64 357.49,292.64 358.86,292.64 360.24,292.64 361.62,292.64 362.99,292.64 364.37,292.64 365.75,292.64 367.12,292.64 368.50,292.64 369.87,292.64 371.25,292.64 372.63,292.64 374.00,292.64 375.38,292.64 376.75,292.64 378.13,292.64 379.51,292.64 380.88,292.64 382.26,292.64 383.64,292.64 385.01,292.64 386.39,292.64 387.76,292.64 389.14,292.64 390.52,292.64 391.89,292.64 393.27,292.64 394.65,292.64 396.02,292.64 397.40,292.64 398.77,292.64 400.15,292.64 401.53,292.64 402.90,292.64 404.28,292.64 405.66,292.64 407.03,292.64 408.41,292.64 409.78,292.64 411.16,292.64 412.54,292.64 413.91,292.64 415.29,292.64 416.67,292.64 418.04,292.64 419.42,292.64 420.79,292.64 422.17,292.64 423.55,292.64 424.92,292.64 426.30,292.64 427.68,292.64 429.05,292.64 430.43,292.64 431.81,292.64 433.18,292.64 434.56,292.64 435.93,292.64 437.31,292.64 438.69,292.64 440.06,292.64 441.44,292.64 442.81,292.64 444.19,292.64 445.57,292.64 446.94,292.64 448.32,292.64 449.70,292.64 451.07,292.64 452.45,292.64 453.82,292.64 455.20,292.64 456.58,292.64 457.95,292.64 459.33,292.64 460.71,292.64 462.08,292.64 463.46,292.64 464.83,292.64 466.21,292.64 467.59,292.64 468.96,292.64 470.34,292.64 471.72,292.64 473.09,292.64 474.47,292.64 475.85,292.64 477.22,292.64 478.60,292.64 479.97,292.64 481.35,292.64 482.73,292.64 484.10,292.64 485.48,292.64 486.86,292.64 488.23,292.64 489.61,292.64 490.98,292.64 492.36,292.64 493.74,292.64 495.11,292.64 496.49,292.64 497.87,292.64 499.24,292.64 500.62,292.64 501.99,292.64 503.37,292.64 504.75,292.64 506.12,292.64 507.50,292.64 508.88,292.64 510.25,292.64 511.63,292.64 513.00,292.64 514.38,292.64 515.76,292.64 517.13,292.64 518.51,292.64 519.88,292.64 521.26,292.64 522.64,292.64 524.01,292.64 525.39,292.64 526.77,292.64 528.14,292.64 529.52,292.64 530.89,292.64 532.27,292.64 533.65,292.64 535.02,292.64 536.40,292.64" fill="none" stroke="#ee1c25" stroke-width="2.2" stroke-dasharray="10.2 4.6 2.4 4.6" stroke-dashoffset="0.8"/>
<path d="M316.20 252.00V428.10H536.40" fill="none" stroke="#444" stroke-width="1.25"/>
<line x1="316.20" y1="414.55" x2="319.50" y2="414.55" stroke="#222" stroke-width="1"/>
<text font-size="11.00px" transform="translate(311.30 418.46) scale(0.870 1.08)" text-anchor="end">3</text>
<line x1="316.20" y1="373.92" x2="319.50" y2="373.92" stroke="#222" stroke-width="1"/>
<text font-size="11.00px" transform="translate(311.30 377.82) scale(0.870 1.08)" text-anchor="end">6</text>
<line x1="316.20" y1="333.28" x2="319.50" y2="333.28" stroke="#222" stroke-width="1"/>
<text font-size="11.00px" transform="translate(311.30 337.18) scale(0.870 1.08)" text-anchor="end">9</text>
<line x1="316.20" y1="292.64" x2="319.50" y2="292.64" stroke="#222" stroke-width="1"/>
<text font-size="11.00px" transform="translate(311.30 296.54) scale(0.870 1.08)" text-anchor="end">12</text>
<line x1="316.20" y1="252.00" x2="319.50" y2="252.00" stroke="#222" stroke-width="1"/>
<text font-size="11.00px" transform="translate(311.30 255.91) scale(0.870 1.08)" text-anchor="end">15</text>
<line x1="316.20" y1="428.10" x2="316.20" y2="424.80" stroke="#222" stroke-width="1"/>
<text font-size="11.00px" x="315.80" y="440.40" text-anchor="middle">0:00</text>
<line x1="371.25" y1="428.10" x2="371.25" y2="424.80" stroke="#222" stroke-width="1"/>
<text font-size="11.00px" x="370.85" y="440.40" text-anchor="middle">2:00</text>
<line x1="426.30" y1="428.10" x2="426.30" y2="424.80" stroke="#222" stroke-width="1"/>
<text font-size="11.00px" x="425.90" y="440.40" text-anchor="middle">4:00</text>
<line x1="481.35" y1="428.10" x2="481.35" y2="424.80" stroke="#222" stroke-width="1"/>
<text font-size="11.00px" x="480.95" y="440.40" text-anchor="middle">6:00</text>
<line x1="536.40" y1="428.10" x2="536.40" y2="424.80" stroke="#222" stroke-width="1"/>
<text font-size="11.00px" x="536.00" y="440.40" text-anchor="middle">8:00</text>
<text font-size="11.10px" x="426.30" y="454.50" text-anchor="middle">Time</text>
<text font-size="11.60px" transform="translate(296.20 339.50) rotate(-90)" text-anchor="middle">Charging Power (kW)</text>
<text font-size="12.30px" x="417.60" y="477.20" text-anchor="middle">(<tspan font-weight="bold">f</tspan>)</text>
<rect x="457.00" y="257.40" width="18.80" height="8.10" fill="#abddc6"/>
<text x="478.10" y="264.15" font-size="7.60px" class="lg">Electric Vehicle #1</text>
<rect x="457.00" y="267.80" width="18.80" height="8.10" fill="#f9a21c"/>
<text x="478.10" y="274.55" font-size="7.60px" class="lg">Electric Vehicle #2</text>
<rect x="457.00" y="278.20" width="18.80" height="8.10" fill="#2e49a5"/>
<text x="478.10" y="284.95" font-size="7.60px" class="lg">Electric Vehicle #3</text>
</g>
</g>
</svg>
</body></html>
